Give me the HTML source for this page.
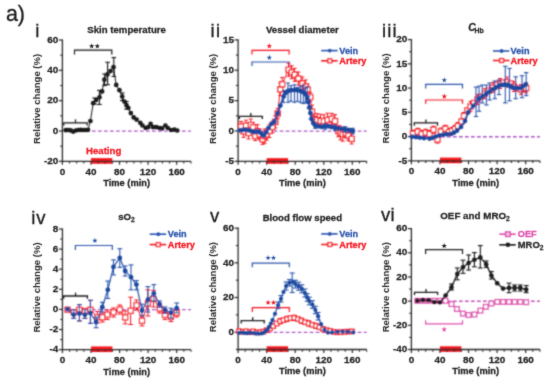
<!DOCTYPE html>
<html><head><meta charset="utf-8"><style>
html,body{margin:0;padding:0;background:#fff;width:550px;height:382px;overflow:hidden}
svg{display:block;will-change:transform}
text{font-family:"Liberation Sans",sans-serif;stroke-width:0.28px}
</style></head><body>
<svg width="550" height="382" viewBox="0 0 550 382">
<defs><filter id="bl" x="0" y="0" width="550" height="382" filterUnits="userSpaceOnUse"><feConvolveMatrix order="3" kernelMatrix="0.0400 0.1200 0.0400 0.1200 0.3600 0.1200 0.0400 0.1200 0.0400" edgeMode="duplicate"/></filter><filter id="bt" x="0" y="0" width="550" height="382" filterUnits="userSpaceOnUse"><feConvolveMatrix order="3" kernelMatrix="0.0144 0.0912 0.0144 0.0912 0.5776 0.0912 0.0144 0.0912 0.0144" edgeMode="duplicate"/></filter></defs>
<rect width="550" height="382" fill="#fff"/>
<g filter="url(#bl)">
<line x1="92.00" y1="131.16" x2="190.92" y2="131.16" stroke="#ac58c6" stroke-width="1.35" stroke-dasharray="3.7 2.3"/>
<rect x="90.96" y="158.15" width="21.42" height="5.6" fill="#f5141e"/>
<line x1="62.40" y1="39.40" x2="62.40" y2="161.35" stroke="#2b2b2b" stroke-width="1.3" />
<line x1="58.80" y1="40.00" x2="62.40" y2="40.00" stroke="#2b2b2b" stroke-width="1.2" />
<line x1="58.80" y1="70.34" x2="62.40" y2="70.34" stroke="#2b2b2b" stroke-width="1.2" />
<line x1="58.80" y1="100.67" x2="62.40" y2="100.67" stroke="#2b2b2b" stroke-width="1.2" />
<line x1="58.80" y1="131.01" x2="62.40" y2="131.01" stroke="#2b2b2b" stroke-width="1.2" />
<line x1="58.80" y1="161.35" x2="62.40" y2="161.35" stroke="#2b2b2b" stroke-width="1.2" />
<line x1="60.20" y1="55.17" x2="62.40" y2="55.17" stroke="#2b2b2b" stroke-width="1.1" />
<line x1="60.20" y1="85.51" x2="62.40" y2="85.51" stroke="#2b2b2b" stroke-width="1.1" />
<line x1="60.20" y1="115.84" x2="62.40" y2="115.84" stroke="#2b2b2b" stroke-width="1.1" />
<line x1="60.20" y1="146.18" x2="62.40" y2="146.18" stroke="#2b2b2b" stroke-width="1.1" />
<line x1="61.80" y1="161.35" x2="190.92" y2="161.35" stroke="#2b2b2b" stroke-width="1.3" />
<line x1="62.40" y1="161.35" x2="62.40" y2="164.75" stroke="#2b2b2b" stroke-width="1.2" />
<line x1="69.54" y1="161.35" x2="69.54" y2="163.55" stroke="#2b2b2b" stroke-width="1.1" />
<line x1="76.68" y1="161.35" x2="76.68" y2="163.55" stroke="#2b2b2b" stroke-width="1.1" />
<line x1="83.82" y1="161.35" x2="83.82" y2="163.55" stroke="#2b2b2b" stroke-width="1.1" />
<line x1="90.96" y1="161.35" x2="90.96" y2="164.75" stroke="#2b2b2b" stroke-width="1.2" />
<line x1="98.10" y1="161.35" x2="98.10" y2="163.55" stroke="#2b2b2b" stroke-width="1.1" />
<line x1="105.24" y1="161.35" x2="105.24" y2="163.55" stroke="#2b2b2b" stroke-width="1.1" />
<line x1="112.38" y1="161.35" x2="112.38" y2="163.55" stroke="#2b2b2b" stroke-width="1.1" />
<line x1="119.52" y1="161.35" x2="119.52" y2="164.75" stroke="#2b2b2b" stroke-width="1.2" />
<line x1="126.66" y1="161.35" x2="126.66" y2="163.55" stroke="#2b2b2b" stroke-width="1.1" />
<line x1="133.80" y1="161.35" x2="133.80" y2="163.55" stroke="#2b2b2b" stroke-width="1.1" />
<line x1="140.94" y1="161.35" x2="140.94" y2="163.55" stroke="#2b2b2b" stroke-width="1.1" />
<line x1="148.08" y1="161.35" x2="148.08" y2="164.75" stroke="#2b2b2b" stroke-width="1.2" />
<line x1="155.22" y1="161.35" x2="155.22" y2="163.55" stroke="#2b2b2b" stroke-width="1.1" />
<line x1="162.36" y1="161.35" x2="162.36" y2="163.55" stroke="#2b2b2b" stroke-width="1.1" />
<line x1="169.50" y1="161.35" x2="169.50" y2="163.55" stroke="#2b2b2b" stroke-width="1.1" />
<line x1="176.64" y1="161.35" x2="176.64" y2="164.75" stroke="#2b2b2b" stroke-width="1.2" />
<line x1="183.78" y1="161.35" x2="183.78" y2="163.55" stroke="#2b2b2b" stroke-width="1.1" />
<line x1="190.92" y1="161.35" x2="190.92" y2="163.55" stroke="#2b2b2b" stroke-width="1.1" />
<polyline points="63.80,125.60 63.80,122.80 87.20,122.80 87.20,125.60" fill="none" stroke="#1a1a1a" stroke-width="1.3"/>
<line x1="75.50" y1="122.80" x2="75.50" y2="119.40" stroke="#1a1a1a" stroke-width="1.3" />
<polyline points="74.50,54.40 74.50,50.10 111.80,50.10 111.80,54.40" fill="none" stroke="#1a1a1a" stroke-width="1.2"/>
<line x1="99.40" y1="90.40" x2="99.40" y2="104.50" stroke="#1a1a1a" stroke-width="1.1" />
<line x1="97.10" y1="90.40" x2="101.70" y2="90.40" stroke="#1a1a1a" stroke-width="1.1" />
<line x1="97.10" y1="104.50" x2="101.70" y2="104.50" stroke="#1a1a1a" stroke-width="1.1" />
<line x1="104.60" y1="74.00" x2="104.60" y2="85.50" stroke="#1a1a1a" stroke-width="1.1" />
<line x1="102.30" y1="74.00" x2="106.90" y2="74.00" stroke="#1a1a1a" stroke-width="1.1" />
<line x1="102.30" y1="85.50" x2="106.90" y2="85.50" stroke="#1a1a1a" stroke-width="1.1" />
<line x1="107.60" y1="62.30" x2="107.60" y2="84.60" stroke="#1a1a1a" stroke-width="1.1" />
<line x1="105.30" y1="62.30" x2="109.90" y2="62.30" stroke="#1a1a1a" stroke-width="1.1" />
<line x1="105.30" y1="84.60" x2="109.90" y2="84.60" stroke="#1a1a1a" stroke-width="1.1" />
<line x1="113.80" y1="57.60" x2="113.80" y2="76.50" stroke="#1a1a1a" stroke-width="1.1" />
<line x1="111.50" y1="57.60" x2="116.10" y2="57.60" stroke="#1a1a1a" stroke-width="1.1" />
<line x1="111.50" y1="76.50" x2="116.10" y2="76.50" stroke="#1a1a1a" stroke-width="1.1" />
<line x1="94.60" y1="98.00" x2="94.60" y2="104.00" stroke="#1a1a1a" stroke-width="1.1" />
<line x1="92.30" y1="98.00" x2="96.90" y2="98.00" stroke="#1a1a1a" stroke-width="1.1" />
<line x1="92.30" y1="104.00" x2="96.90" y2="104.00" stroke="#1a1a1a" stroke-width="1.1" />
<line x1="122.30" y1="93.00" x2="122.30" y2="100.50" stroke="#1a1a1a" stroke-width="1.1" />
<line x1="120.00" y1="93.00" x2="124.60" y2="93.00" stroke="#1a1a1a" stroke-width="1.1" />
<line x1="120.00" y1="100.50" x2="124.60" y2="100.50" stroke="#1a1a1a" stroke-width="1.1" />
<line x1="126.40" y1="101.50" x2="126.40" y2="109.00" stroke="#1a1a1a" stroke-width="1.1" />
<line x1="124.10" y1="101.50" x2="128.70" y2="101.50" stroke="#1a1a1a" stroke-width="1.1" />
<line x1="124.10" y1="109.00" x2="128.70" y2="109.00" stroke="#1a1a1a" stroke-width="1.1" />
<polyline points="65.70,130.20 68.20,130.00 70.70,130.40 73.20,131.60 75.70,130.50 78.20,130.00 80.70,129.90 83.20,130.00 85.70,130.00 88.00,129.80 90.40,121.00 93.20,103.20 96.10,100.00 99.50,97.30 102.10,91.40 104.40,79.70 107.40,74.40 110.50,71.10 113.50,67.20 116.20,84.90 119.40,90.20 122.20,96.50 124.40,101.60 126.50,105.20 128.30,108.00 130.80,113.10 133.70,117.40 136.60,119.60 140.30,122.80 142.50,125.50 145.70,128.00 148.20,127.20 150.60,123.90 153.10,127.20 156.40,127.20 159.60,128.00 162.10,128.40 165.40,125.50 167.80,128.00 171.10,130.00 174.40,129.60 177.20,130.50" fill="none" stroke="#1a1a1a" stroke-width="1.0" stroke-linejoin="round" />
<circle cx="65.70" cy="130.20" r="2.35" fill="#1a1a1a"/>
<circle cx="68.20" cy="130.00" r="2.35" fill="#1a1a1a"/>
<circle cx="70.70" cy="130.40" r="2.35" fill="#1a1a1a"/>
<circle cx="73.20" cy="131.60" r="2.35" fill="#1a1a1a"/>
<circle cx="75.70" cy="130.50" r="2.35" fill="#1a1a1a"/>
<circle cx="78.20" cy="130.00" r="2.35" fill="#1a1a1a"/>
<circle cx="80.70" cy="129.90" r="2.35" fill="#1a1a1a"/>
<circle cx="83.20" cy="130.00" r="2.35" fill="#1a1a1a"/>
<circle cx="85.70" cy="130.00" r="2.35" fill="#1a1a1a"/>
<circle cx="88.00" cy="129.80" r="2.35" fill="#1a1a1a"/>
<circle cx="90.40" cy="121.00" r="2.35" fill="#1a1a1a"/>
<circle cx="93.20" cy="103.20" r="2.35" fill="#1a1a1a"/>
<circle cx="96.10" cy="100.00" r="2.35" fill="#1a1a1a"/>
<circle cx="99.50" cy="97.30" r="2.35" fill="#1a1a1a"/>
<circle cx="102.10" cy="91.40" r="2.35" fill="#1a1a1a"/>
<circle cx="104.40" cy="79.70" r="2.35" fill="#1a1a1a"/>
<circle cx="107.40" cy="74.40" r="2.35" fill="#1a1a1a"/>
<circle cx="110.50" cy="71.10" r="2.35" fill="#1a1a1a"/>
<circle cx="113.50" cy="67.20" r="2.35" fill="#1a1a1a"/>
<circle cx="116.20" cy="84.90" r="2.35" fill="#1a1a1a"/>
<circle cx="119.40" cy="90.20" r="2.35" fill="#1a1a1a"/>
<circle cx="122.20" cy="96.50" r="2.35" fill="#1a1a1a"/>
<circle cx="124.40" cy="101.60" r="2.35" fill="#1a1a1a"/>
<circle cx="126.50" cy="105.20" r="2.35" fill="#1a1a1a"/>
<circle cx="128.30" cy="108.00" r="2.35" fill="#1a1a1a"/>
<circle cx="130.80" cy="113.10" r="2.35" fill="#1a1a1a"/>
<circle cx="133.70" cy="117.40" r="2.35" fill="#1a1a1a"/>
<circle cx="136.60" cy="119.60" r="2.35" fill="#1a1a1a"/>
<circle cx="140.30" cy="122.80" r="2.35" fill="#1a1a1a"/>
<circle cx="142.50" cy="125.50" r="2.35" fill="#1a1a1a"/>
<circle cx="145.70" cy="128.00" r="2.35" fill="#1a1a1a"/>
<circle cx="148.20" cy="127.20" r="2.35" fill="#1a1a1a"/>
<circle cx="150.60" cy="123.90" r="2.35" fill="#1a1a1a"/>
<circle cx="153.10" cy="127.20" r="2.35" fill="#1a1a1a"/>
<circle cx="156.40" cy="127.20" r="2.35" fill="#1a1a1a"/>
<circle cx="159.60" cy="128.00" r="2.35" fill="#1a1a1a"/>
<circle cx="162.10" cy="128.40" r="2.35" fill="#1a1a1a"/>
<circle cx="165.40" cy="125.50" r="2.35" fill="#1a1a1a"/>
<circle cx="167.80" cy="128.00" r="2.35" fill="#1a1a1a"/>
<circle cx="171.10" cy="130.00" r="2.35" fill="#1a1a1a"/>
<circle cx="174.40" cy="129.60" r="2.35" fill="#1a1a1a"/>
<circle cx="177.20" cy="130.50" r="2.35" fill="#1a1a1a"/>
<line x1="243.70" y1="131.14" x2="366.62" y2="131.14" stroke="#ac58c6" stroke-width="1.35" stroke-dasharray="3.7 2.3"/>
<rect x="266.66" y="158.15" width="21.42" height="5.6" fill="#f5141e"/>
<line x1="238.10" y1="39.30" x2="238.10" y2="161.35" stroke="#2b2b2b" stroke-width="1.3" />
<line x1="234.50" y1="39.90" x2="238.10" y2="39.90" stroke="#2b2b2b" stroke-width="1.2" />
<line x1="234.50" y1="70.26" x2="238.10" y2="70.26" stroke="#2b2b2b" stroke-width="1.2" />
<line x1="234.50" y1="100.62" x2="238.10" y2="100.62" stroke="#2b2b2b" stroke-width="1.2" />
<line x1="234.50" y1="130.99" x2="238.10" y2="130.99" stroke="#2b2b2b" stroke-width="1.2" />
<line x1="234.50" y1="161.35" x2="238.10" y2="161.35" stroke="#2b2b2b" stroke-width="1.2" />
<line x1="235.90" y1="55.08" x2="238.10" y2="55.08" stroke="#2b2b2b" stroke-width="1.1" />
<line x1="235.90" y1="85.44" x2="238.10" y2="85.44" stroke="#2b2b2b" stroke-width="1.1" />
<line x1="235.90" y1="115.81" x2="238.10" y2="115.81" stroke="#2b2b2b" stroke-width="1.1" />
<line x1="235.90" y1="146.17" x2="238.10" y2="146.17" stroke="#2b2b2b" stroke-width="1.1" />
<line x1="237.50" y1="161.35" x2="366.62" y2="161.35" stroke="#2b2b2b" stroke-width="1.3" />
<line x1="238.10" y1="161.35" x2="238.10" y2="164.75" stroke="#2b2b2b" stroke-width="1.2" />
<line x1="245.24" y1="161.35" x2="245.24" y2="163.55" stroke="#2b2b2b" stroke-width="1.1" />
<line x1="252.38" y1="161.35" x2="252.38" y2="163.55" stroke="#2b2b2b" stroke-width="1.1" />
<line x1="259.52" y1="161.35" x2="259.52" y2="163.55" stroke="#2b2b2b" stroke-width="1.1" />
<line x1="266.66" y1="161.35" x2="266.66" y2="164.75" stroke="#2b2b2b" stroke-width="1.2" />
<line x1="273.80" y1="161.35" x2="273.80" y2="163.55" stroke="#2b2b2b" stroke-width="1.1" />
<line x1="280.94" y1="161.35" x2="280.94" y2="163.55" stroke="#2b2b2b" stroke-width="1.1" />
<line x1="288.08" y1="161.35" x2="288.08" y2="163.55" stroke="#2b2b2b" stroke-width="1.1" />
<line x1="295.22" y1="161.35" x2="295.22" y2="164.75" stroke="#2b2b2b" stroke-width="1.2" />
<line x1="302.36" y1="161.35" x2="302.36" y2="163.55" stroke="#2b2b2b" stroke-width="1.1" />
<line x1="309.50" y1="161.35" x2="309.50" y2="163.55" stroke="#2b2b2b" stroke-width="1.1" />
<line x1="316.64" y1="161.35" x2="316.64" y2="163.55" stroke="#2b2b2b" stroke-width="1.1" />
<line x1="323.78" y1="161.35" x2="323.78" y2="164.75" stroke="#2b2b2b" stroke-width="1.2" />
<line x1="330.92" y1="161.35" x2="330.92" y2="163.55" stroke="#2b2b2b" stroke-width="1.1" />
<line x1="338.06" y1="161.35" x2="338.06" y2="163.55" stroke="#2b2b2b" stroke-width="1.1" />
<line x1="345.20" y1="161.35" x2="345.20" y2="163.55" stroke="#2b2b2b" stroke-width="1.1" />
<line x1="352.34" y1="161.35" x2="352.34" y2="164.75" stroke="#2b2b2b" stroke-width="1.2" />
<line x1="359.48" y1="161.35" x2="359.48" y2="163.55" stroke="#2b2b2b" stroke-width="1.1" />
<line x1="366.62" y1="161.35" x2="366.62" y2="163.55" stroke="#2b2b2b" stroke-width="1.1" />
<polyline points="239.30,119.10 239.30,116.30 262.30,116.30 262.30,119.10" fill="none" stroke="#1a1a1a" stroke-width="1.3"/>
<line x1="250.80" y1="116.30" x2="250.80" y2="112.90" stroke="#1a1a1a" stroke-width="1.3" />
<polyline points="252.00,54.40 252.00,50.40 289.10,50.40 289.10,54.40" fill="none" stroke="#f5141e" stroke-width="1.2"/>
<polyline points="252.00,66.00 252.00,62.00 289.10,62.00 289.10,66.00" fill="none" stroke="#2a54ad" stroke-width="1.2"/>
<line x1="241.00" y1="121.41" x2="241.00" y2="131.59" stroke="#f5141e" stroke-width="1.0" />
<line x1="239.00" y1="121.41" x2="243.00" y2="121.41" stroke="#f5141e" stroke-width="1.0" />
<line x1="239.00" y1="131.59" x2="243.00" y2="131.59" stroke="#f5141e" stroke-width="1.0" />
<line x1="243.60" y1="125.64" x2="243.60" y2="137.36" stroke="#f5141e" stroke-width="1.0" />
<line x1="241.60" y1="125.64" x2="245.60" y2="125.64" stroke="#f5141e" stroke-width="1.0" />
<line x1="241.60" y1="137.36" x2="245.60" y2="137.36" stroke="#f5141e" stroke-width="1.0" />
<line x1="246.00" y1="120.18" x2="246.00" y2="131.02" stroke="#f5141e" stroke-width="1.0" />
<line x1="244.00" y1="120.18" x2="248.00" y2="120.18" stroke="#f5141e" stroke-width="1.0" />
<line x1="244.00" y1="131.02" x2="248.00" y2="131.02" stroke="#f5141e" stroke-width="1.0" />
<line x1="248.50" y1="126.99" x2="248.50" y2="139.01" stroke="#f5141e" stroke-width="1.0" />
<line x1="246.50" y1="126.99" x2="250.50" y2="126.99" stroke="#f5141e" stroke-width="1.0" />
<line x1="246.50" y1="139.01" x2="250.50" y2="139.01" stroke="#f5141e" stroke-width="1.0" />
<line x1="250.80" y1="118.94" x2="250.80" y2="131.06" stroke="#f5141e" stroke-width="1.0" />
<line x1="248.80" y1="118.94" x2="252.80" y2="118.94" stroke="#f5141e" stroke-width="1.0" />
<line x1="248.80" y1="131.06" x2="252.80" y2="131.06" stroke="#f5141e" stroke-width="1.0" />
<line x1="253.00" y1="122.54" x2="253.00" y2="131.86" stroke="#f5141e" stroke-width="1.0" />
<line x1="251.00" y1="122.54" x2="255.00" y2="122.54" stroke="#f5141e" stroke-width="1.0" />
<line x1="251.00" y1="131.86" x2="255.00" y2="131.86" stroke="#f5141e" stroke-width="1.0" />
<line x1="255.20" y1="131.47" x2="255.20" y2="140.53" stroke="#f5141e" stroke-width="1.0" />
<line x1="253.20" y1="131.47" x2="257.20" y2="131.47" stroke="#f5141e" stroke-width="1.0" />
<line x1="253.20" y1="140.53" x2="257.20" y2="140.53" stroke="#f5141e" stroke-width="1.0" />
<line x1="257.50" y1="124.61" x2="257.50" y2="137.79" stroke="#f5141e" stroke-width="1.0" />
<line x1="255.50" y1="124.61" x2="259.50" y2="124.61" stroke="#f5141e" stroke-width="1.0" />
<line x1="255.50" y1="137.79" x2="259.50" y2="137.79" stroke="#f5141e" stroke-width="1.0" />
<line x1="259.60" y1="129.35" x2="259.60" y2="139.65" stroke="#f5141e" stroke-width="1.0" />
<line x1="257.60" y1="129.35" x2="261.60" y2="129.35" stroke="#f5141e" stroke-width="1.0" />
<line x1="257.60" y1="139.65" x2="261.60" y2="139.65" stroke="#f5141e" stroke-width="1.0" />
<line x1="262.60" y1="134.21" x2="262.60" y2="144.39" stroke="#f5141e" stroke-width="1.0" />
<line x1="260.60" y1="134.21" x2="264.60" y2="134.21" stroke="#f5141e" stroke-width="1.0" />
<line x1="260.60" y1="144.39" x2="264.60" y2="144.39" stroke="#f5141e" stroke-width="1.0" />
<line x1="264.60" y1="129.21" x2="264.60" y2="143.19" stroke="#f5141e" stroke-width="1.0" />
<line x1="262.60" y1="129.21" x2="266.60" y2="129.21" stroke="#f5141e" stroke-width="1.0" />
<line x1="262.60" y1="143.19" x2="266.60" y2="143.19" stroke="#f5141e" stroke-width="1.0" />
<line x1="266.60" y1="128.82" x2="266.60" y2="140.18" stroke="#f5141e" stroke-width="1.0" />
<line x1="264.60" y1="128.82" x2="268.60" y2="128.82" stroke="#f5141e" stroke-width="1.0" />
<line x1="264.60" y1="140.18" x2="268.60" y2="140.18" stroke="#f5141e" stroke-width="1.0" />
<line x1="269.50" y1="124.41" x2="269.50" y2="137.59" stroke="#f5141e" stroke-width="1.0" />
<line x1="267.50" y1="124.41" x2="271.50" y2="124.41" stroke="#f5141e" stroke-width="1.0" />
<line x1="267.50" y1="137.59" x2="271.50" y2="137.59" stroke="#f5141e" stroke-width="1.0" />
<line x1="272.50" y1="121.31" x2="272.50" y2="132.69" stroke="#f5141e" stroke-width="1.0" />
<line x1="270.50" y1="121.31" x2="274.50" y2="121.31" stroke="#f5141e" stroke-width="1.0" />
<line x1="270.50" y1="132.69" x2="274.50" y2="132.69" stroke="#f5141e" stroke-width="1.0" />
<line x1="275.30" y1="115.70" x2="275.30" y2="127.90" stroke="#f5141e" stroke-width="1.0" />
<line x1="273.30" y1="115.70" x2="277.30" y2="115.70" stroke="#f5141e" stroke-width="1.0" />
<line x1="273.30" y1="127.90" x2="277.30" y2="127.90" stroke="#f5141e" stroke-width="1.0" />
<line x1="277.70" y1="108.52" x2="277.70" y2="118.28" stroke="#f5141e" stroke-width="1.0" />
<line x1="275.70" y1="108.52" x2="279.70" y2="108.52" stroke="#f5141e" stroke-width="1.0" />
<line x1="275.70" y1="118.28" x2="279.70" y2="118.28" stroke="#f5141e" stroke-width="1.0" />
<line x1="280.30" y1="83.31" x2="280.30" y2="95.49" stroke="#f5141e" stroke-width="1.0" />
<line x1="278.30" y1="83.31" x2="282.30" y2="83.31" stroke="#f5141e" stroke-width="1.0" />
<line x1="278.30" y1="95.49" x2="282.30" y2="95.49" stroke="#f5141e" stroke-width="1.0" />
<line x1="282.20" y1="77.53" x2="282.20" y2="90.87" stroke="#f5141e" stroke-width="1.0" />
<line x1="280.20" y1="77.53" x2="284.20" y2="77.53" stroke="#f5141e" stroke-width="1.0" />
<line x1="280.20" y1="90.87" x2="284.20" y2="90.87" stroke="#f5141e" stroke-width="1.0" />
<line x1="288.50" y1="63.30" x2="288.50" y2="76.30" stroke="#f5141e" stroke-width="1.0" />
<line x1="286.50" y1="63.30" x2="290.50" y2="63.30" stroke="#f5141e" stroke-width="1.0" />
<line x1="286.50" y1="76.30" x2="290.50" y2="76.30" stroke="#f5141e" stroke-width="1.0" />
<line x1="291.60" y1="65.70" x2="291.60" y2="78.70" stroke="#f5141e" stroke-width="1.0" />
<line x1="289.60" y1="65.70" x2="293.60" y2="65.70" stroke="#f5141e" stroke-width="1.0" />
<line x1="289.60" y1="78.70" x2="293.60" y2="78.70" stroke="#f5141e" stroke-width="1.0" />
<line x1="294.60" y1="68.30" x2="294.60" y2="81.30" stroke="#f5141e" stroke-width="1.0" />
<line x1="292.60" y1="68.30" x2="296.60" y2="68.30" stroke="#f5141e" stroke-width="1.0" />
<line x1="292.60" y1="81.30" x2="296.60" y2="81.30" stroke="#f5141e" stroke-width="1.0" />
<line x1="298.30" y1="72.00" x2="298.30" y2="85.00" stroke="#f5141e" stroke-width="1.0" />
<line x1="296.30" y1="72.00" x2="300.30" y2="72.00" stroke="#f5141e" stroke-width="1.0" />
<line x1="296.30" y1="85.00" x2="300.30" y2="85.00" stroke="#f5141e" stroke-width="1.0" />
<line x1="302.30" y1="77.00" x2="302.30" y2="90.00" stroke="#f5141e" stroke-width="1.0" />
<line x1="300.30" y1="77.00" x2="304.30" y2="77.00" stroke="#f5141e" stroke-width="1.0" />
<line x1="300.30" y1="90.00" x2="304.30" y2="90.00" stroke="#f5141e" stroke-width="1.0" />
<line x1="305.60" y1="80.00" x2="305.60" y2="93.00" stroke="#f5141e" stroke-width="1.0" />
<line x1="303.60" y1="80.00" x2="307.60" y2="80.00" stroke="#f5141e" stroke-width="1.0" />
<line x1="303.60" y1="93.00" x2="307.60" y2="93.00" stroke="#f5141e" stroke-width="1.0" />
<line x1="307.60" y1="84.25" x2="307.60" y2="94.75" stroke="#f5141e" stroke-width="1.0" />
<line x1="305.60" y1="84.25" x2="309.60" y2="84.25" stroke="#f5141e" stroke-width="1.0" />
<line x1="305.60" y1="94.75" x2="309.60" y2="94.75" stroke="#f5141e" stroke-width="1.0" />
<line x1="310.20" y1="92.42" x2="310.20" y2="101.58" stroke="#f5141e" stroke-width="1.0" />
<line x1="308.20" y1="92.42" x2="312.20" y2="92.42" stroke="#f5141e" stroke-width="1.0" />
<line x1="308.20" y1="101.58" x2="312.20" y2="101.58" stroke="#f5141e" stroke-width="1.0" />
<line x1="312.00" y1="105.14" x2="312.00" y2="118.46" stroke="#f5141e" stroke-width="1.0" />
<line x1="310.00" y1="105.14" x2="314.00" y2="105.14" stroke="#f5141e" stroke-width="1.0" />
<line x1="310.00" y1="118.46" x2="314.00" y2="118.46" stroke="#f5141e" stroke-width="1.0" />
<line x1="314.00" y1="113.22" x2="314.00" y2="124.58" stroke="#f5141e" stroke-width="1.0" />
<line x1="312.00" y1="113.22" x2="316.00" y2="113.22" stroke="#f5141e" stroke-width="1.0" />
<line x1="312.00" y1="124.58" x2="316.00" y2="124.58" stroke="#f5141e" stroke-width="1.0" />
<line x1="317.20" y1="113.70" x2="317.20" y2="126.30" stroke="#f5141e" stroke-width="1.0" />
<line x1="315.20" y1="113.70" x2="319.20" y2="113.70" stroke="#f5141e" stroke-width="1.0" />
<line x1="315.20" y1="126.30" x2="319.20" y2="126.30" stroke="#f5141e" stroke-width="1.0" />
<line x1="320.50" y1="114.30" x2="320.50" y2="127.70" stroke="#f5141e" stroke-width="1.0" />
<line x1="318.50" y1="114.30" x2="322.50" y2="114.30" stroke="#f5141e" stroke-width="1.0" />
<line x1="318.50" y1="127.70" x2="322.50" y2="127.70" stroke="#f5141e" stroke-width="1.0" />
<line x1="323.90" y1="114.81" x2="323.90" y2="127.39" stroke="#f5141e" stroke-width="1.0" />
<line x1="321.90" y1="114.81" x2="325.90" y2="114.81" stroke="#f5141e" stroke-width="1.0" />
<line x1="321.90" y1="127.39" x2="325.90" y2="127.39" stroke="#f5141e" stroke-width="1.0" />
<line x1="327.50" y1="113.20" x2="327.50" y2="126.80" stroke="#f5141e" stroke-width="1.0" />
<line x1="325.50" y1="113.20" x2="329.50" y2="113.20" stroke="#f5141e" stroke-width="1.0" />
<line x1="325.50" y1="126.80" x2="329.50" y2="126.80" stroke="#f5141e" stroke-width="1.0" />
<line x1="331.70" y1="113.41" x2="331.70" y2="124.39" stroke="#f5141e" stroke-width="1.0" />
<line x1="329.70" y1="113.41" x2="333.70" y2="113.41" stroke="#f5141e" stroke-width="1.0" />
<line x1="329.70" y1="124.39" x2="333.70" y2="124.39" stroke="#f5141e" stroke-width="1.0" />
<line x1="335.00" y1="114.60" x2="335.00" y2="127.60" stroke="#f5141e" stroke-width="1.0" />
<line x1="333.00" y1="114.60" x2="337.00" y2="114.60" stroke="#f5141e" stroke-width="1.0" />
<line x1="333.00" y1="127.60" x2="337.00" y2="127.60" stroke="#f5141e" stroke-width="1.0" />
<line x1="338.30" y1="125.49" x2="338.30" y2="136.71" stroke="#f5141e" stroke-width="1.0" />
<line x1="336.30" y1="125.49" x2="340.30" y2="125.49" stroke="#f5141e" stroke-width="1.0" />
<line x1="336.30" y1="136.71" x2="340.30" y2="136.71" stroke="#f5141e" stroke-width="1.0" />
<line x1="340.50" y1="126.16" x2="340.50" y2="139.84" stroke="#f5141e" stroke-width="1.0" />
<line x1="338.50" y1="126.16" x2="342.50" y2="126.16" stroke="#f5141e" stroke-width="1.0" />
<line x1="338.50" y1="139.84" x2="342.50" y2="139.84" stroke="#f5141e" stroke-width="1.0" />
<line x1="342.80" y1="127.70" x2="342.80" y2="141.10" stroke="#f5141e" stroke-width="1.0" />
<line x1="340.80" y1="127.70" x2="344.80" y2="127.70" stroke="#f5141e" stroke-width="1.0" />
<line x1="340.80" y1="141.10" x2="344.80" y2="141.10" stroke="#f5141e" stroke-width="1.0" />
<line x1="345.50" y1="128.26" x2="345.50" y2="137.74" stroke="#f5141e" stroke-width="1.0" />
<line x1="343.50" y1="128.26" x2="347.50" y2="128.26" stroke="#f5141e" stroke-width="1.0" />
<line x1="343.50" y1="137.74" x2="347.50" y2="137.74" stroke="#f5141e" stroke-width="1.0" />
<line x1="348.30" y1="130.76" x2="348.30" y2="140.44" stroke="#f5141e" stroke-width="1.0" />
<line x1="346.30" y1="130.76" x2="350.30" y2="130.76" stroke="#f5141e" stroke-width="1.0" />
<line x1="346.30" y1="140.44" x2="350.30" y2="140.44" stroke="#f5141e" stroke-width="1.0" />
<line x1="351.70" y1="133.86" x2="351.70" y2="143.94" stroke="#f5141e" stroke-width="1.0" />
<line x1="349.70" y1="133.86" x2="353.70" y2="133.86" stroke="#f5141e" stroke-width="1.0" />
<line x1="349.70" y1="143.94" x2="353.70" y2="143.94" stroke="#f5141e" stroke-width="1.0" />
<polyline points="241.00,126.50 243.60,131.50 246.00,125.60 248.50,133.00 250.80,125.00 253.00,127.20 255.20,136.00 257.50,131.20 259.60,134.50 262.60,139.30 264.60,136.20 266.60,134.50 269.50,131.00 272.50,127.00 275.30,121.80 277.70,113.40 280.30,89.40 282.20,84.20 288.50,69.80 291.60,72.20 294.60,74.80 298.30,78.50 302.30,83.50 305.60,86.50 307.60,89.50 310.20,97.00 312.00,111.80 314.00,118.90 317.20,120.00 320.50,121.00 323.90,121.10 327.50,120.00 331.70,118.90 335.00,121.10 338.30,131.10 340.50,133.00 342.80,134.40 345.50,133.00 348.30,135.60 351.70,138.90" fill="none" stroke="#f5141e" stroke-width="1.0" stroke-linejoin="round" />
<rect x="238.50" y="124.00" width="5.0" height="5.0" fill="#fff" stroke="#f5141e" stroke-width="1.25"/>
<rect x="241.10" y="129.00" width="5.0" height="5.0" fill="#fff" stroke="#f5141e" stroke-width="1.25"/>
<rect x="243.50" y="123.10" width="5.0" height="5.0" fill="#fff" stroke="#f5141e" stroke-width="1.25"/>
<rect x="246.00" y="130.50" width="5.0" height="5.0" fill="#fff" stroke="#f5141e" stroke-width="1.25"/>
<rect x="248.30" y="122.50" width="5.0" height="5.0" fill="#fff" stroke="#f5141e" stroke-width="1.25"/>
<rect x="250.50" y="124.70" width="5.0" height="5.0" fill="#fff" stroke="#f5141e" stroke-width="1.25"/>
<rect x="252.70" y="133.50" width="5.0" height="5.0" fill="#fff" stroke="#f5141e" stroke-width="1.25"/>
<rect x="255.00" y="128.70" width="5.0" height="5.0" fill="#fff" stroke="#f5141e" stroke-width="1.25"/>
<rect x="257.10" y="132.00" width="5.0" height="5.0" fill="#fff" stroke="#f5141e" stroke-width="1.25"/>
<rect x="260.10" y="136.80" width="5.0" height="5.0" fill="#fff" stroke="#f5141e" stroke-width="1.25"/>
<rect x="262.10" y="133.70" width="5.0" height="5.0" fill="#fff" stroke="#f5141e" stroke-width="1.25"/>
<rect x="264.10" y="132.00" width="5.0" height="5.0" fill="#fff" stroke="#f5141e" stroke-width="1.25"/>
<rect x="267.00" y="128.50" width="5.0" height="5.0" fill="#fff" stroke="#f5141e" stroke-width="1.25"/>
<rect x="270.00" y="124.50" width="5.0" height="5.0" fill="#fff" stroke="#f5141e" stroke-width="1.25"/>
<rect x="272.80" y="119.30" width="5.0" height="5.0" fill="#fff" stroke="#f5141e" stroke-width="1.25"/>
<rect x="275.20" y="110.90" width="5.0" height="5.0" fill="#fff" stroke="#f5141e" stroke-width="1.25"/>
<rect x="277.80" y="86.90" width="5.0" height="5.0" fill="#fff" stroke="#f5141e" stroke-width="1.25"/>
<rect x="279.70" y="81.70" width="5.0" height="5.0" fill="#fff" stroke="#f5141e" stroke-width="1.25"/>
<rect x="286.00" y="67.30" width="5.0" height="5.0" fill="#fff" stroke="#f5141e" stroke-width="1.25"/>
<rect x="289.10" y="69.70" width="5.0" height="5.0" fill="#fff" stroke="#f5141e" stroke-width="1.25"/>
<rect x="292.10" y="72.30" width="5.0" height="5.0" fill="#fff" stroke="#f5141e" stroke-width="1.25"/>
<rect x="295.80" y="76.00" width="5.0" height="5.0" fill="#fff" stroke="#f5141e" stroke-width="1.25"/>
<rect x="299.80" y="81.00" width="5.0" height="5.0" fill="#fff" stroke="#f5141e" stroke-width="1.25"/>
<rect x="303.10" y="84.00" width="5.0" height="5.0" fill="#fff" stroke="#f5141e" stroke-width="1.25"/>
<rect x="305.10" y="87.00" width="5.0" height="5.0" fill="#fff" stroke="#f5141e" stroke-width="1.25"/>
<rect x="307.70" y="94.50" width="5.0" height="5.0" fill="#fff" stroke="#f5141e" stroke-width="1.25"/>
<rect x="309.50" y="109.30" width="5.0" height="5.0" fill="#fff" stroke="#f5141e" stroke-width="1.25"/>
<rect x="311.50" y="116.40" width="5.0" height="5.0" fill="#fff" stroke="#f5141e" stroke-width="1.25"/>
<rect x="314.70" y="117.50" width="5.0" height="5.0" fill="#fff" stroke="#f5141e" stroke-width="1.25"/>
<rect x="318.00" y="118.50" width="5.0" height="5.0" fill="#fff" stroke="#f5141e" stroke-width="1.25"/>
<rect x="321.40" y="118.60" width="5.0" height="5.0" fill="#fff" stroke="#f5141e" stroke-width="1.25"/>
<rect x="325.00" y="117.50" width="5.0" height="5.0" fill="#fff" stroke="#f5141e" stroke-width="1.25"/>
<rect x="329.20" y="116.40" width="5.0" height="5.0" fill="#fff" stroke="#f5141e" stroke-width="1.25"/>
<rect x="332.50" y="118.60" width="5.0" height="5.0" fill="#fff" stroke="#f5141e" stroke-width="1.25"/>
<rect x="335.80" y="128.60" width="5.0" height="5.0" fill="#fff" stroke="#f5141e" stroke-width="1.25"/>
<rect x="338.00" y="130.50" width="5.0" height="5.0" fill="#fff" stroke="#f5141e" stroke-width="1.25"/>
<rect x="340.30" y="131.90" width="5.0" height="5.0" fill="#fff" stroke="#f5141e" stroke-width="1.25"/>
<rect x="343.00" y="130.50" width="5.0" height="5.0" fill="#fff" stroke="#f5141e" stroke-width="1.25"/>
<rect x="345.80" y="133.10" width="5.0" height="5.0" fill="#fff" stroke="#f5141e" stroke-width="1.25"/>
<rect x="349.20" y="136.40" width="5.0" height="5.0" fill="#fff" stroke="#f5141e" stroke-width="1.25"/>
<line x1="283.60" y1="90.50" x2="283.60" y2="102.50" stroke="#2a54ad" stroke-width="1.1" />
<line x1="281.70" y1="90.50" x2="285.50" y2="90.50" stroke="#2a54ad" stroke-width="1.1" />
<line x1="281.70" y1="102.50" x2="285.50" y2="102.50" stroke="#2a54ad" stroke-width="1.1" />
<line x1="288.00" y1="83.00" x2="288.00" y2="102.30" stroke="#2a54ad" stroke-width="1.1" />
<line x1="286.10" y1="83.00" x2="289.90" y2="83.00" stroke="#2a54ad" stroke-width="1.1" />
<line x1="286.10" y1="102.30" x2="289.90" y2="102.30" stroke="#2a54ad" stroke-width="1.1" />
<line x1="291.00" y1="85.65" x2="291.00" y2="101.22" stroke="#2a54ad" stroke-width="1.1" />
<line x1="289.10" y1="85.65" x2="292.90" y2="85.65" stroke="#2a54ad" stroke-width="1.1" />
<line x1="289.10" y1="101.22" x2="292.90" y2="101.22" stroke="#2a54ad" stroke-width="1.1" />
<line x1="294.50" y1="84.77" x2="294.50" y2="102.34" stroke="#2a54ad" stroke-width="1.1" />
<line x1="292.60" y1="84.77" x2="296.40" y2="84.77" stroke="#2a54ad" stroke-width="1.1" />
<line x1="292.60" y1="102.34" x2="296.40" y2="102.34" stroke="#2a54ad" stroke-width="1.1" />
<line x1="297.50" y1="87.42" x2="297.50" y2="101.26" stroke="#2a54ad" stroke-width="1.1" />
<line x1="295.60" y1="87.42" x2="299.40" y2="87.42" stroke="#2a54ad" stroke-width="1.1" />
<line x1="295.60" y1="101.26" x2="299.40" y2="101.26" stroke="#2a54ad" stroke-width="1.1" />
<line x1="300.60" y1="86.09" x2="300.60" y2="102.59" stroke="#2a54ad" stroke-width="1.1" />
<line x1="298.70" y1="86.09" x2="302.50" y2="86.09" stroke="#2a54ad" stroke-width="1.1" />
<line x1="298.70" y1="102.59" x2="302.50" y2="102.59" stroke="#2a54ad" stroke-width="1.1" />
<line x1="303.30" y1="85.30" x2="303.30" y2="103.52" stroke="#2a54ad" stroke-width="1.1" />
<line x1="301.40" y1="85.30" x2="305.20" y2="85.30" stroke="#2a54ad" stroke-width="1.1" />
<line x1="301.40" y1="103.52" x2="305.20" y2="103.52" stroke="#2a54ad" stroke-width="1.1" />
<line x1="305.50" y1="88.12" x2="305.50" y2="102.20" stroke="#2a54ad" stroke-width="1.1" />
<line x1="303.60" y1="88.12" x2="307.40" y2="88.12" stroke="#2a54ad" stroke-width="1.1" />
<line x1="303.60" y1="102.20" x2="307.40" y2="102.20" stroke="#2a54ad" stroke-width="1.1" />
<line x1="307.30" y1="86.89" x2="307.30" y2="103.24" stroke="#2a54ad" stroke-width="1.1" />
<line x1="305.40" y1="86.89" x2="309.20" y2="86.89" stroke="#2a54ad" stroke-width="1.1" />
<line x1="305.40" y1="103.24" x2="309.20" y2="103.24" stroke="#2a54ad" stroke-width="1.1" />
<line x1="308.50" y1="96.00" x2="308.50" y2="108.00" stroke="#2a54ad" stroke-width="1.1" />
<line x1="306.60" y1="96.00" x2="310.40" y2="96.00" stroke="#2a54ad" stroke-width="1.1" />
<line x1="306.60" y1="108.00" x2="310.40" y2="108.00" stroke="#2a54ad" stroke-width="1.1" />
<line x1="310.50" y1="107.00" x2="310.50" y2="119.00" stroke="#2a54ad" stroke-width="1.1" />
<line x1="308.60" y1="107.00" x2="312.40" y2="107.00" stroke="#2a54ad" stroke-width="1.1" />
<line x1="308.60" y1="119.00" x2="312.40" y2="119.00" stroke="#2a54ad" stroke-width="1.1" />
<line x1="315.20" y1="122.80" x2="315.20" y2="128.40" stroke="#2a54ad" stroke-width="1.1" />
<line x1="313.30" y1="122.80" x2="317.10" y2="122.80" stroke="#2a54ad" stroke-width="1.1" />
<line x1="313.30" y1="128.40" x2="317.10" y2="128.40" stroke="#2a54ad" stroke-width="1.1" />
<line x1="325.00" y1="123.60" x2="325.00" y2="129.20" stroke="#2a54ad" stroke-width="1.1" />
<line x1="323.10" y1="123.60" x2="326.90" y2="123.60" stroke="#2a54ad" stroke-width="1.1" />
<line x1="323.10" y1="129.20" x2="326.90" y2="129.20" stroke="#2a54ad" stroke-width="1.1" />
<line x1="335.00" y1="125.00" x2="335.00" y2="130.60" stroke="#2a54ad" stroke-width="1.1" />
<line x1="333.10" y1="125.00" x2="336.90" y2="125.00" stroke="#2a54ad" stroke-width="1.1" />
<line x1="333.10" y1="130.60" x2="336.90" y2="130.60" stroke="#2a54ad" stroke-width="1.1" />
<line x1="345.00" y1="126.70" x2="345.00" y2="132.30" stroke="#2a54ad" stroke-width="1.1" />
<line x1="343.10" y1="126.70" x2="346.90" y2="126.70" stroke="#2a54ad" stroke-width="1.1" />
<line x1="343.10" y1="132.30" x2="346.90" y2="132.30" stroke="#2a54ad" stroke-width="1.1" />
<line x1="352.80" y1="128.30" x2="352.80" y2="133.90" stroke="#2a54ad" stroke-width="1.1" />
<line x1="350.90" y1="128.30" x2="354.70" y2="128.30" stroke="#2a54ad" stroke-width="1.1" />
<line x1="350.90" y1="133.90" x2="354.70" y2="133.90" stroke="#2a54ad" stroke-width="1.1" />
<polyline points="240.10,130.20 242.60,130.00 245.20,129.70 247.50,130.10 249.70,130.60 252.00,131.30 254.30,132.00 256.40,131.60 258.50,131.50 260.60,133.00 262.40,135.00 263.90,135.40 266.30,132.20 268.60,128.00 271.50,124.00 274.40,121.80 277.70,113.40 280.30,105.60 283.60,96.50 285.60,92.80 288.00,91.00 291.00,90.30 294.50,90.00 297.50,90.30 300.60,91.00 303.30,92.30 305.50,94.30 307.30,98.00 308.50,102.00 309.50,107.50 310.50,113.00 311.70,118.90 313.30,123.00 315.20,125.60 318.30,126.20 321.70,126.70 325.00,126.40 328.30,126.20 331.50,127.00 335.00,127.80 338.30,128.30 341.70,128.90 345.00,129.50 348.30,130.00 350.50,130.50 352.80,131.10" fill="none" stroke="#2a54ad" stroke-width="2.0" stroke-linejoin="round" />
<circle cx="240.10" cy="130.20" r="2.45" fill="#1b4a9f"/>
<circle cx="242.60" cy="130.00" r="2.45" fill="#1b4a9f"/>
<circle cx="245.20" cy="129.70" r="2.45" fill="#1b4a9f"/>
<circle cx="247.50" cy="130.10" r="2.45" fill="#1b4a9f"/>
<circle cx="249.70" cy="130.60" r="2.45" fill="#1b4a9f"/>
<circle cx="252.00" cy="131.30" r="2.45" fill="#1b4a9f"/>
<circle cx="254.30" cy="132.00" r="2.45" fill="#1b4a9f"/>
<circle cx="256.40" cy="131.60" r="2.45" fill="#1b4a9f"/>
<circle cx="258.50" cy="131.50" r="2.45" fill="#1b4a9f"/>
<circle cx="260.60" cy="133.00" r="2.45" fill="#1b4a9f"/>
<circle cx="262.40" cy="135.00" r="2.45" fill="#1b4a9f"/>
<circle cx="263.90" cy="135.40" r="2.45" fill="#1b4a9f"/>
<circle cx="266.30" cy="132.20" r="2.45" fill="#1b4a9f"/>
<circle cx="268.60" cy="128.00" r="2.45" fill="#1b4a9f"/>
<circle cx="271.50" cy="124.00" r="2.45" fill="#1b4a9f"/>
<circle cx="274.40" cy="121.80" r="2.45" fill="#1b4a9f"/>
<circle cx="277.70" cy="113.40" r="2.45" fill="#1b4a9f"/>
<circle cx="280.30" cy="105.60" r="2.45" fill="#1b4a9f"/>
<circle cx="283.60" cy="96.50" r="2.45" fill="#1b4a9f"/>
<circle cx="285.60" cy="92.80" r="2.45" fill="#1b4a9f"/>
<circle cx="288.00" cy="91.00" r="2.45" fill="#1b4a9f"/>
<circle cx="291.00" cy="90.30" r="2.45" fill="#1b4a9f"/>
<circle cx="294.50" cy="90.00" r="2.45" fill="#1b4a9f"/>
<circle cx="297.50" cy="90.30" r="2.45" fill="#1b4a9f"/>
<circle cx="300.60" cy="91.00" r="2.45" fill="#1b4a9f"/>
<circle cx="303.30" cy="92.30" r="2.45" fill="#1b4a9f"/>
<circle cx="305.50" cy="94.30" r="2.45" fill="#1b4a9f"/>
<circle cx="307.30" cy="98.00" r="2.45" fill="#1b4a9f"/>
<circle cx="308.50" cy="102.00" r="2.45" fill="#1b4a9f"/>
<circle cx="309.50" cy="107.50" r="2.45" fill="#1b4a9f"/>
<circle cx="310.50" cy="113.00" r="2.45" fill="#1b4a9f"/>
<circle cx="311.70" cy="118.90" r="2.45" fill="#1b4a9f"/>
<circle cx="313.30" cy="123.00" r="2.45" fill="#1b4a9f"/>
<circle cx="315.20" cy="125.60" r="2.45" fill="#1b4a9f"/>
<circle cx="318.30" cy="126.20" r="2.45" fill="#1b4a9f"/>
<circle cx="321.70" cy="126.70" r="2.45" fill="#1b4a9f"/>
<circle cx="325.00" cy="126.40" r="2.45" fill="#1b4a9f"/>
<circle cx="328.30" cy="126.20" r="2.45" fill="#1b4a9f"/>
<circle cx="331.50" cy="127.00" r="2.45" fill="#1b4a9f"/>
<circle cx="335.00" cy="127.80" r="2.45" fill="#1b4a9f"/>
<circle cx="338.30" cy="128.30" r="2.45" fill="#1b4a9f"/>
<circle cx="341.70" cy="128.90" r="2.45" fill="#1b4a9f"/>
<circle cx="345.00" cy="129.50" r="2.45" fill="#1b4a9f"/>
<circle cx="348.30" cy="130.00" r="2.45" fill="#1b4a9f"/>
<circle cx="350.50" cy="130.50" r="2.45" fill="#1b4a9f"/>
<circle cx="352.80" cy="131.10" r="2.45" fill="#1b4a9f"/>
<line x1="321.20" y1="50.60" x2="337.60" y2="50.60" stroke="#2a54ad" stroke-width="1.6" />
<circle cx="329.80" cy="50.60" r="1.9" fill="#2a54ad"/>
<line x1="321.20" y1="60.80" x2="337.60" y2="60.80" stroke="#f5141e" stroke-width="1.6" />
<rect x="327.90" y="58.90" width="3.8" height="3.8" fill="#fff" stroke="#f5141e" stroke-width="1.3"/>
<line x1="417.00" y1="136.71" x2="539.92" y2="136.71" stroke="#ac58c6" stroke-width="1.35" stroke-dasharray="3.7 2.3"/>
<rect x="439.96" y="157.60" width="21.42" height="5.6" fill="#f5141e"/>
<line x1="411.40" y1="39.00" x2="411.40" y2="160.80" stroke="#2b2b2b" stroke-width="1.3" />
<line x1="407.80" y1="39.60" x2="411.40" y2="39.60" stroke="#2b2b2b" stroke-width="1.2" />
<line x1="407.80" y1="63.84" x2="411.40" y2="63.84" stroke="#2b2b2b" stroke-width="1.2" />
<line x1="407.80" y1="88.08" x2="411.40" y2="88.08" stroke="#2b2b2b" stroke-width="1.2" />
<line x1="407.80" y1="112.32" x2="411.40" y2="112.32" stroke="#2b2b2b" stroke-width="1.2" />
<line x1="407.80" y1="136.56" x2="411.40" y2="136.56" stroke="#2b2b2b" stroke-width="1.2" />
<line x1="407.80" y1="160.80" x2="411.40" y2="160.80" stroke="#2b2b2b" stroke-width="1.2" />
<line x1="409.20" y1="51.72" x2="411.40" y2="51.72" stroke="#2b2b2b" stroke-width="1.1" />
<line x1="409.20" y1="75.96" x2="411.40" y2="75.96" stroke="#2b2b2b" stroke-width="1.1" />
<line x1="409.20" y1="100.20" x2="411.40" y2="100.20" stroke="#2b2b2b" stroke-width="1.1" />
<line x1="409.20" y1="124.44" x2="411.40" y2="124.44" stroke="#2b2b2b" stroke-width="1.1" />
<line x1="409.20" y1="148.68" x2="411.40" y2="148.68" stroke="#2b2b2b" stroke-width="1.1" />
<line x1="410.80" y1="160.80" x2="539.92" y2="160.80" stroke="#2b2b2b" stroke-width="1.3" />
<line x1="411.40" y1="160.80" x2="411.40" y2="164.20" stroke="#2b2b2b" stroke-width="1.2" />
<line x1="418.54" y1="160.80" x2="418.54" y2="163.00" stroke="#2b2b2b" stroke-width="1.1" />
<line x1="425.68" y1="160.80" x2="425.68" y2="163.00" stroke="#2b2b2b" stroke-width="1.1" />
<line x1="432.82" y1="160.80" x2="432.82" y2="163.00" stroke="#2b2b2b" stroke-width="1.1" />
<line x1="439.96" y1="160.80" x2="439.96" y2="164.20" stroke="#2b2b2b" stroke-width="1.2" />
<line x1="447.10" y1="160.80" x2="447.10" y2="163.00" stroke="#2b2b2b" stroke-width="1.1" />
<line x1="454.24" y1="160.80" x2="454.24" y2="163.00" stroke="#2b2b2b" stroke-width="1.1" />
<line x1="461.38" y1="160.80" x2="461.38" y2="163.00" stroke="#2b2b2b" stroke-width="1.1" />
<line x1="468.52" y1="160.80" x2="468.52" y2="164.20" stroke="#2b2b2b" stroke-width="1.2" />
<line x1="475.66" y1="160.80" x2="475.66" y2="163.00" stroke="#2b2b2b" stroke-width="1.1" />
<line x1="482.80" y1="160.80" x2="482.80" y2="163.00" stroke="#2b2b2b" stroke-width="1.1" />
<line x1="489.94" y1="160.80" x2="489.94" y2="163.00" stroke="#2b2b2b" stroke-width="1.1" />
<line x1="497.08" y1="160.80" x2="497.08" y2="164.20" stroke="#2b2b2b" stroke-width="1.2" />
<line x1="504.22" y1="160.80" x2="504.22" y2="163.00" stroke="#2b2b2b" stroke-width="1.1" />
<line x1="511.36" y1="160.80" x2="511.36" y2="163.00" stroke="#2b2b2b" stroke-width="1.1" />
<line x1="518.50" y1="160.80" x2="518.50" y2="163.00" stroke="#2b2b2b" stroke-width="1.1" />
<line x1="525.64" y1="160.80" x2="525.64" y2="164.20" stroke="#2b2b2b" stroke-width="1.2" />
<line x1="532.78" y1="160.80" x2="532.78" y2="163.00" stroke="#2b2b2b" stroke-width="1.1" />
<line x1="539.92" y1="160.80" x2="539.92" y2="163.00" stroke="#2b2b2b" stroke-width="1.1" />
<polyline points="414.30,125.70 414.30,122.90 437.50,122.90 437.50,125.70" fill="none" stroke="#1a1a1a" stroke-width="1.3"/>
<line x1="425.90" y1="122.90" x2="425.90" y2="119.50" stroke="#1a1a1a" stroke-width="1.3" />
<polyline points="425.70,88.50 425.70,84.30 462.50,84.30 462.50,88.50" fill="none" stroke="#2a54ad" stroke-width="1.2"/>
<polyline points="425.70,103.80 425.70,100.00 462.50,100.00 462.50,103.80" fill="none" stroke="#f5141e" stroke-width="1.2"/>
<line x1="413.00" y1="130.20" x2="413.00" y2="137.20" stroke="#f5141e" stroke-width="1.0" />
<line x1="411.00" y1="130.20" x2="415.00" y2="130.20" stroke="#f5141e" stroke-width="1.0" />
<line x1="411.00" y1="137.20" x2="415.00" y2="137.20" stroke="#f5141e" stroke-width="1.0" />
<line x1="417.80" y1="128.30" x2="417.80" y2="135.30" stroke="#f5141e" stroke-width="1.0" />
<line x1="415.80" y1="128.30" x2="419.80" y2="128.30" stroke="#f5141e" stroke-width="1.0" />
<line x1="415.80" y1="135.30" x2="419.80" y2="135.30" stroke="#f5141e" stroke-width="1.0" />
<line x1="421.50" y1="130.50" x2="421.50" y2="137.50" stroke="#f5141e" stroke-width="1.0" />
<line x1="419.50" y1="130.50" x2="423.50" y2="130.50" stroke="#f5141e" stroke-width="1.0" />
<line x1="419.50" y1="137.50" x2="423.50" y2="137.50" stroke="#f5141e" stroke-width="1.0" />
<line x1="425.70" y1="129.20" x2="425.70" y2="136.20" stroke="#f5141e" stroke-width="1.0" />
<line x1="423.70" y1="129.20" x2="427.70" y2="129.20" stroke="#f5141e" stroke-width="1.0" />
<line x1="423.70" y1="136.20" x2="427.70" y2="136.20" stroke="#f5141e" stroke-width="1.0" />
<line x1="429.50" y1="130.50" x2="429.50" y2="137.50" stroke="#f5141e" stroke-width="1.0" />
<line x1="427.50" y1="130.50" x2="431.50" y2="130.50" stroke="#f5141e" stroke-width="1.0" />
<line x1="427.50" y1="137.50" x2="431.50" y2="137.50" stroke="#f5141e" stroke-width="1.0" />
<line x1="433.50" y1="126.30" x2="433.50" y2="133.30" stroke="#f5141e" stroke-width="1.0" />
<line x1="431.50" y1="126.30" x2="435.50" y2="126.30" stroke="#f5141e" stroke-width="1.0" />
<line x1="431.50" y1="133.30" x2="435.50" y2="133.30" stroke="#f5141e" stroke-width="1.0" />
<line x1="437.50" y1="136.10" x2="437.50" y2="143.10" stroke="#f5141e" stroke-width="1.0" />
<line x1="435.50" y1="136.10" x2="439.50" y2="136.10" stroke="#f5141e" stroke-width="1.0" />
<line x1="435.50" y1="143.10" x2="439.50" y2="143.10" stroke="#f5141e" stroke-width="1.0" />
<line x1="441.00" y1="128.00" x2="441.00" y2="135.00" stroke="#f5141e" stroke-width="1.0" />
<line x1="439.00" y1="128.00" x2="443.00" y2="128.00" stroke="#f5141e" stroke-width="1.0" />
<line x1="439.00" y1="135.00" x2="443.00" y2="135.00" stroke="#f5141e" stroke-width="1.0" />
<line x1="445.30" y1="125.30" x2="445.30" y2="132.30" stroke="#f5141e" stroke-width="1.0" />
<line x1="443.30" y1="125.30" x2="447.30" y2="125.30" stroke="#f5141e" stroke-width="1.0" />
<line x1="443.30" y1="132.30" x2="447.30" y2="132.30" stroke="#f5141e" stroke-width="1.0" />
<line x1="449.00" y1="128.50" x2="449.00" y2="135.50" stroke="#f5141e" stroke-width="1.0" />
<line x1="447.00" y1="128.50" x2="451.00" y2="128.50" stroke="#f5141e" stroke-width="1.0" />
<line x1="447.00" y1="135.50" x2="451.00" y2="135.50" stroke="#f5141e" stroke-width="1.0" />
<line x1="452.00" y1="127.50" x2="452.00" y2="134.50" stroke="#f5141e" stroke-width="1.0" />
<line x1="450.00" y1="127.50" x2="454.00" y2="127.50" stroke="#f5141e" stroke-width="1.0" />
<line x1="450.00" y1="134.50" x2="454.00" y2="134.50" stroke="#f5141e" stroke-width="1.0" />
<line x1="455.10" y1="125.30" x2="455.10" y2="132.30" stroke="#f5141e" stroke-width="1.0" />
<line x1="453.10" y1="125.30" x2="457.10" y2="125.30" stroke="#f5141e" stroke-width="1.0" />
<line x1="453.10" y1="132.30" x2="457.10" y2="132.30" stroke="#f5141e" stroke-width="1.0" />
<line x1="458.00" y1="122.50" x2="458.00" y2="129.50" stroke="#f5141e" stroke-width="1.0" />
<line x1="456.00" y1="122.50" x2="460.00" y2="122.50" stroke="#f5141e" stroke-width="1.0" />
<line x1="456.00" y1="129.50" x2="460.00" y2="129.50" stroke="#f5141e" stroke-width="1.0" />
<line x1="464.00" y1="112.50" x2="464.00" y2="119.50" stroke="#f5141e" stroke-width="1.0" />
<line x1="462.00" y1="112.50" x2="466.00" y2="112.50" stroke="#f5141e" stroke-width="1.0" />
<line x1="462.00" y1="119.50" x2="466.00" y2="119.50" stroke="#f5141e" stroke-width="1.0" />
<line x1="470.50" y1="101.50" x2="470.50" y2="111.50" stroke="#f5141e" stroke-width="1.0" />
<line x1="468.50" y1="101.50" x2="472.50" y2="101.50" stroke="#f5141e" stroke-width="1.0" />
<line x1="468.50" y1="111.50" x2="472.50" y2="111.50" stroke="#f5141e" stroke-width="1.0" />
<line x1="477.50" y1="94.50" x2="477.50" y2="104.50" stroke="#f5141e" stroke-width="1.0" />
<line x1="475.50" y1="94.50" x2="479.50" y2="94.50" stroke="#f5141e" stroke-width="1.0" />
<line x1="475.50" y1="104.50" x2="479.50" y2="104.50" stroke="#f5141e" stroke-width="1.0" />
<line x1="485.00" y1="88.50" x2="485.00" y2="98.50" stroke="#f5141e" stroke-width="1.0" />
<line x1="483.00" y1="88.50" x2="487.00" y2="88.50" stroke="#f5141e" stroke-width="1.0" />
<line x1="483.00" y1="98.50" x2="487.00" y2="98.50" stroke="#f5141e" stroke-width="1.0" />
<line x1="493.00" y1="82.50" x2="493.00" y2="92.50" stroke="#f5141e" stroke-width="1.0" />
<line x1="491.00" y1="82.50" x2="495.00" y2="82.50" stroke="#f5141e" stroke-width="1.0" />
<line x1="491.00" y1="92.50" x2="495.00" y2="92.50" stroke="#f5141e" stroke-width="1.0" />
<line x1="500.00" y1="78.50" x2="500.00" y2="88.50" stroke="#f5141e" stroke-width="1.0" />
<line x1="498.00" y1="78.50" x2="502.00" y2="78.50" stroke="#f5141e" stroke-width="1.0" />
<line x1="498.00" y1="88.50" x2="502.00" y2="88.50" stroke="#f5141e" stroke-width="1.0" />
<line x1="507.00" y1="77.00" x2="507.00" y2="87.00" stroke="#f5141e" stroke-width="1.0" />
<line x1="505.00" y1="77.00" x2="509.00" y2="77.00" stroke="#f5141e" stroke-width="1.0" />
<line x1="505.00" y1="87.00" x2="509.00" y2="87.00" stroke="#f5141e" stroke-width="1.0" />
<line x1="514.00" y1="81.50" x2="514.00" y2="91.50" stroke="#f5141e" stroke-width="1.0" />
<line x1="512.00" y1="81.50" x2="516.00" y2="81.50" stroke="#f5141e" stroke-width="1.0" />
<line x1="512.00" y1="91.50" x2="516.00" y2="91.50" stroke="#f5141e" stroke-width="1.0" />
<line x1="521.00" y1="84.50" x2="521.00" y2="94.50" stroke="#f5141e" stroke-width="1.0" />
<line x1="519.00" y1="84.50" x2="523.00" y2="84.50" stroke="#f5141e" stroke-width="1.0" />
<line x1="519.00" y1="94.50" x2="523.00" y2="94.50" stroke="#f5141e" stroke-width="1.0" />
<line x1="526.20" y1="83.00" x2="526.20" y2="93.00" stroke="#f5141e" stroke-width="1.0" />
<line x1="524.20" y1="83.00" x2="528.20" y2="83.00" stroke="#f5141e" stroke-width="1.0" />
<line x1="524.20" y1="93.00" x2="528.20" y2="93.00" stroke="#f5141e" stroke-width="1.0" />
<polyline points="413.00,133.70 417.80,131.80 421.50,134.00 425.70,132.70 429.50,134.00 433.50,129.80 437.50,139.60 441.00,131.50 445.30,128.80 449.00,132.00 452.00,131.00 455.10,128.80 458.00,126.00 461.50,121.50 464.00,116.00 467.30,110.50 470.50,106.50 474.00,103.00 477.50,99.50 481.00,96.50 485.00,93.50 489.00,90.50 493.00,87.50 496.50,84.50 500.00,83.50 503.50,82.50 507.00,82.00 510.50,83.50 514.00,86.50 517.50,88.50 521.00,89.50 524.50,89.00 526.20,88.00" fill="none" stroke="#f5141e" stroke-width="1.0" stroke-linejoin="round" />
<rect x="410.50" y="131.20" width="5.0" height="5.0" fill="#fff" stroke="#f5141e" stroke-width="1.2"/>
<rect x="415.30" y="129.30" width="5.0" height="5.0" fill="#fff" stroke="#f5141e" stroke-width="1.2"/>
<rect x="419.00" y="131.50" width="5.0" height="5.0" fill="#fff" stroke="#f5141e" stroke-width="1.2"/>
<rect x="423.20" y="130.20" width="5.0" height="5.0" fill="#fff" stroke="#f5141e" stroke-width="1.2"/>
<rect x="427.00" y="131.50" width="5.0" height="5.0" fill="#fff" stroke="#f5141e" stroke-width="1.2"/>
<rect x="431.00" y="127.30" width="5.0" height="5.0" fill="#fff" stroke="#f5141e" stroke-width="1.2"/>
<rect x="435.00" y="137.10" width="5.0" height="5.0" fill="#fff" stroke="#f5141e" stroke-width="1.2"/>
<rect x="438.50" y="129.00" width="5.0" height="5.0" fill="#fff" stroke="#f5141e" stroke-width="1.2"/>
<rect x="442.80" y="126.30" width="5.0" height="5.0" fill="#fff" stroke="#f5141e" stroke-width="1.2"/>
<rect x="446.50" y="129.50" width="5.0" height="5.0" fill="#fff" stroke="#f5141e" stroke-width="1.2"/>
<rect x="449.50" y="128.50" width="5.0" height="5.0" fill="#fff" stroke="#f5141e" stroke-width="1.2"/>
<rect x="452.60" y="126.30" width="5.0" height="5.0" fill="#fff" stroke="#f5141e" stroke-width="1.2"/>
<rect x="455.50" y="123.50" width="5.0" height="5.0" fill="#fff" stroke="#f5141e" stroke-width="1.2"/>
<rect x="459.00" y="119.00" width="5.0" height="5.0" fill="#fff" stroke="#f5141e" stroke-width="1.2"/>
<rect x="461.50" y="113.50" width="5.0" height="5.0" fill="#fff" stroke="#f5141e" stroke-width="1.2"/>
<rect x="464.80" y="108.00" width="5.0" height="5.0" fill="#fff" stroke="#f5141e" stroke-width="1.2"/>
<rect x="468.00" y="104.00" width="5.0" height="5.0" fill="#fff" stroke="#f5141e" stroke-width="1.2"/>
<rect x="471.50" y="100.50" width="5.0" height="5.0" fill="#fff" stroke="#f5141e" stroke-width="1.2"/>
<rect x="475.00" y="97.00" width="5.0" height="5.0" fill="#fff" stroke="#f5141e" stroke-width="1.2"/>
<rect x="478.50" y="94.00" width="5.0" height="5.0" fill="#fff" stroke="#f5141e" stroke-width="1.2"/>
<rect x="482.50" y="91.00" width="5.0" height="5.0" fill="#fff" stroke="#f5141e" stroke-width="1.2"/>
<rect x="486.50" y="88.00" width="5.0" height="5.0" fill="#fff" stroke="#f5141e" stroke-width="1.2"/>
<rect x="490.50" y="85.00" width="5.0" height="5.0" fill="#fff" stroke="#f5141e" stroke-width="1.2"/>
<rect x="494.00" y="82.00" width="5.0" height="5.0" fill="#fff" stroke="#f5141e" stroke-width="1.2"/>
<rect x="497.50" y="81.00" width="5.0" height="5.0" fill="#fff" stroke="#f5141e" stroke-width="1.2"/>
<rect x="501.00" y="80.00" width="5.0" height="5.0" fill="#fff" stroke="#f5141e" stroke-width="1.2"/>
<rect x="504.50" y="79.50" width="5.0" height="5.0" fill="#fff" stroke="#f5141e" stroke-width="1.2"/>
<rect x="508.00" y="81.00" width="5.0" height="5.0" fill="#fff" stroke="#f5141e" stroke-width="1.2"/>
<rect x="511.50" y="84.00" width="5.0" height="5.0" fill="#fff" stroke="#f5141e" stroke-width="1.2"/>
<rect x="515.00" y="86.00" width="5.0" height="5.0" fill="#fff" stroke="#f5141e" stroke-width="1.2"/>
<rect x="518.50" y="87.00" width="5.0" height="5.0" fill="#fff" stroke="#f5141e" stroke-width="1.2"/>
<rect x="522.00" y="86.50" width="5.0" height="5.0" fill="#fff" stroke="#f5141e" stroke-width="1.2"/>
<rect x="523.70" y="85.50" width="5.0" height="5.0" fill="#fff" stroke="#f5141e" stroke-width="1.2"/>
<line x1="476.00" y1="87.20" x2="476.00" y2="116.50" stroke="#2a54ad" stroke-width="1.1" />
<line x1="473.80" y1="87.20" x2="478.20" y2="87.20" stroke="#2a54ad" stroke-width="1.1" />
<line x1="473.80" y1="116.50" x2="478.20" y2="116.50" stroke="#2a54ad" stroke-width="1.1" />
<line x1="479.00" y1="86.20" x2="479.00" y2="111.30" stroke="#2a54ad" stroke-width="1.1" />
<line x1="476.80" y1="86.20" x2="481.20" y2="86.20" stroke="#2a54ad" stroke-width="1.1" />
<line x1="476.80" y1="111.30" x2="481.20" y2="111.30" stroke="#2a54ad" stroke-width="1.1" />
<line x1="482.30" y1="85.10" x2="482.30" y2="103.00" stroke="#2a54ad" stroke-width="1.1" />
<line x1="480.10" y1="85.10" x2="484.50" y2="85.10" stroke="#2a54ad" stroke-width="1.1" />
<line x1="480.10" y1="103.00" x2="484.50" y2="103.00" stroke="#2a54ad" stroke-width="1.1" />
<line x1="486.40" y1="85.10" x2="486.40" y2="105.00" stroke="#2a54ad" stroke-width="1.1" />
<line x1="484.20" y1="85.10" x2="488.60" y2="85.10" stroke="#2a54ad" stroke-width="1.1" />
<line x1="484.20" y1="105.00" x2="488.60" y2="105.00" stroke="#2a54ad" stroke-width="1.1" />
<line x1="489.60" y1="83.00" x2="489.60" y2="100.00" stroke="#2a54ad" stroke-width="1.1" />
<line x1="487.40" y1="83.00" x2="491.80" y2="83.00" stroke="#2a54ad" stroke-width="1.1" />
<line x1="487.40" y1="100.00" x2="491.80" y2="100.00" stroke="#2a54ad" stroke-width="1.1" />
<line x1="494.80" y1="81.00" x2="494.80" y2="98.70" stroke="#2a54ad" stroke-width="1.1" />
<line x1="492.60" y1="81.00" x2="497.00" y2="81.00" stroke="#2a54ad" stroke-width="1.1" />
<line x1="492.60" y1="98.70" x2="497.00" y2="98.70" stroke="#2a54ad" stroke-width="1.1" />
<line x1="499.00" y1="80.00" x2="499.00" y2="94.60" stroke="#2a54ad" stroke-width="1.1" />
<line x1="496.80" y1="80.00" x2="501.20" y2="80.00" stroke="#2a54ad" stroke-width="1.1" />
<line x1="496.80" y1="94.60" x2="501.20" y2="94.60" stroke="#2a54ad" stroke-width="1.1" />
<line x1="505.30" y1="66.30" x2="505.30" y2="102.90" stroke="#2a54ad" stroke-width="1.1" />
<line x1="503.10" y1="66.30" x2="507.50" y2="66.30" stroke="#2a54ad" stroke-width="1.1" />
<line x1="503.10" y1="102.90" x2="507.50" y2="102.90" stroke="#2a54ad" stroke-width="1.1" />
<line x1="509.50" y1="68.40" x2="509.50" y2="100.80" stroke="#2a54ad" stroke-width="1.1" />
<line x1="507.30" y1="68.40" x2="511.70" y2="68.40" stroke="#2a54ad" stroke-width="1.1" />
<line x1="507.30" y1="100.80" x2="511.70" y2="100.80" stroke="#2a54ad" stroke-width="1.1" />
<line x1="515.70" y1="76.80" x2="515.70" y2="98.70" stroke="#2a54ad" stroke-width="1.1" />
<line x1="513.50" y1="76.80" x2="517.90" y2="76.80" stroke="#2a54ad" stroke-width="1.1" />
<line x1="513.50" y1="98.70" x2="517.90" y2="98.70" stroke="#2a54ad" stroke-width="1.1" />
<line x1="522.00" y1="75.70" x2="522.00" y2="97.70" stroke="#2a54ad" stroke-width="1.1" />
<line x1="519.80" y1="75.70" x2="524.20" y2="75.70" stroke="#2a54ad" stroke-width="1.1" />
<line x1="519.80" y1="97.70" x2="524.20" y2="97.70" stroke="#2a54ad" stroke-width="1.1" />
<line x1="526.20" y1="72.60" x2="526.20" y2="95.60" stroke="#2a54ad" stroke-width="1.1" />
<line x1="524.00" y1="72.60" x2="528.40" y2="72.60" stroke="#2a54ad" stroke-width="1.1" />
<line x1="524.00" y1="95.60" x2="528.40" y2="95.60" stroke="#2a54ad" stroke-width="1.1" />
<polyline points="412.00,136.70 416.00,137.00 419.80,137.60 424.00,138.00 429.60,138.60 432.50,137.80 435.50,136.70 439.40,135.50 443.30,134.60 447.00,134.20 451.20,133.80 454.00,132.60 457.00,130.50 461.00,126.90 464.90,121.00 468.00,112.50 473.00,105.80 478.90,98.70 482.50,96.30 486.00,94.00 489.50,91.60 493.00,89.20 496.00,87.40 498.90,85.70 502.00,85.00 504.80,84.50 507.20,85.00 509.50,85.70 512.00,87.00 514.20,88.10 517.00,88.10 520.10,88.10 523.00,86.20 525.80,84.50" fill="none" stroke="#2a54ad" stroke-width="2.0" stroke-linejoin="round" />
<circle cx="412.00" cy="136.70" r="2.4" fill="#1b4a9f"/>
<circle cx="416.00" cy="137.00" r="2.4" fill="#1b4a9f"/>
<circle cx="419.80" cy="137.60" r="2.4" fill="#1b4a9f"/>
<circle cx="424.00" cy="138.00" r="2.4" fill="#1b4a9f"/>
<circle cx="429.60" cy="138.60" r="2.4" fill="#1b4a9f"/>
<circle cx="432.50" cy="137.80" r="2.4" fill="#1b4a9f"/>
<circle cx="435.50" cy="136.70" r="2.4" fill="#1b4a9f"/>
<circle cx="439.40" cy="135.50" r="2.4" fill="#1b4a9f"/>
<circle cx="443.30" cy="134.60" r="2.4" fill="#1b4a9f"/>
<circle cx="447.00" cy="134.20" r="2.4" fill="#1b4a9f"/>
<circle cx="451.20" cy="133.80" r="2.4" fill="#1b4a9f"/>
<circle cx="454.00" cy="132.60" r="2.4" fill="#1b4a9f"/>
<circle cx="457.00" cy="130.50" r="2.4" fill="#1b4a9f"/>
<circle cx="461.00" cy="126.90" r="2.4" fill="#1b4a9f"/>
<circle cx="464.90" cy="121.00" r="2.4" fill="#1b4a9f"/>
<circle cx="468.00" cy="112.50" r="2.4" fill="#1b4a9f"/>
<circle cx="473.00" cy="105.80" r="2.4" fill="#1b4a9f"/>
<circle cx="478.90" cy="98.70" r="2.4" fill="#1b4a9f"/>
<circle cx="482.50" cy="96.30" r="2.4" fill="#1b4a9f"/>
<circle cx="486.00" cy="94.00" r="2.4" fill="#1b4a9f"/>
<circle cx="489.50" cy="91.60" r="2.4" fill="#1b4a9f"/>
<circle cx="493.00" cy="89.20" r="2.4" fill="#1b4a9f"/>
<circle cx="496.00" cy="87.40" r="2.4" fill="#1b4a9f"/>
<circle cx="498.90" cy="85.70" r="2.4" fill="#1b4a9f"/>
<circle cx="502.00" cy="85.00" r="2.4" fill="#1b4a9f"/>
<circle cx="504.80" cy="84.50" r="2.4" fill="#1b4a9f"/>
<circle cx="507.20" cy="85.00" r="2.4" fill="#1b4a9f"/>
<circle cx="509.50" cy="85.70" r="2.4" fill="#1b4a9f"/>
<circle cx="512.00" cy="87.00" r="2.4" fill="#1b4a9f"/>
<circle cx="514.20" cy="88.10" r="2.4" fill="#1b4a9f"/>
<circle cx="517.00" cy="88.10" r="2.4" fill="#1b4a9f"/>
<circle cx="520.10" cy="88.10" r="2.4" fill="#1b4a9f"/>
<circle cx="523.00" cy="86.20" r="2.4" fill="#1b4a9f"/>
<circle cx="525.80" cy="84.50" r="2.4" fill="#1b4a9f"/>
<line x1="493.00" y1="51.00" x2="509.40" y2="51.00" stroke="#2a54ad" stroke-width="1.6" />
<circle cx="501.60" cy="51.00" r="1.9" fill="#2a54ad"/>
<line x1="493.00" y1="60.50" x2="509.40" y2="60.50" stroke="#f5141e" stroke-width="1.6" />
<rect x="499.70" y="58.60" width="3.8" height="3.8" fill="#fff" stroke="#f5141e" stroke-width="1.3"/>
<line x1="68.05" y1="309.58" x2="190.97" y2="309.58" stroke="#ac58c6" stroke-width="1.35" stroke-dasharray="3.7 2.3"/>
<rect x="91.01" y="346.45" width="21.42" height="5.6" fill="#f5141e"/>
<line x1="62.45" y1="228.40" x2="62.45" y2="349.65" stroke="#2b2b2b" stroke-width="1.3" />
<line x1="58.85" y1="229.00" x2="62.45" y2="229.00" stroke="#2b2b2b" stroke-width="1.2" />
<line x1="58.85" y1="249.11" x2="62.45" y2="249.11" stroke="#2b2b2b" stroke-width="1.2" />
<line x1="58.85" y1="269.22" x2="62.45" y2="269.22" stroke="#2b2b2b" stroke-width="1.2" />
<line x1="58.85" y1="289.32" x2="62.45" y2="289.32" stroke="#2b2b2b" stroke-width="1.2" />
<line x1="58.85" y1="309.43" x2="62.45" y2="309.43" stroke="#2b2b2b" stroke-width="1.2" />
<line x1="58.85" y1="329.54" x2="62.45" y2="329.54" stroke="#2b2b2b" stroke-width="1.2" />
<line x1="58.85" y1="349.65" x2="62.45" y2="349.65" stroke="#2b2b2b" stroke-width="1.2" />
<line x1="60.25" y1="239.05" x2="62.45" y2="239.05" stroke="#2b2b2b" stroke-width="1.1" />
<line x1="60.25" y1="259.16" x2="62.45" y2="259.16" stroke="#2b2b2b" stroke-width="1.1" />
<line x1="60.25" y1="279.27" x2="62.45" y2="279.27" stroke="#2b2b2b" stroke-width="1.1" />
<line x1="60.25" y1="299.38" x2="62.45" y2="299.38" stroke="#2b2b2b" stroke-width="1.1" />
<line x1="60.25" y1="319.49" x2="62.45" y2="319.49" stroke="#2b2b2b" stroke-width="1.1" />
<line x1="60.25" y1="339.60" x2="62.45" y2="339.60" stroke="#2b2b2b" stroke-width="1.1" />
<line x1="61.85" y1="349.65" x2="190.97" y2="349.65" stroke="#2b2b2b" stroke-width="1.3" />
<line x1="62.45" y1="349.65" x2="62.45" y2="353.05" stroke="#2b2b2b" stroke-width="1.2" />
<line x1="69.59" y1="349.65" x2="69.59" y2="351.85" stroke="#2b2b2b" stroke-width="1.1" />
<line x1="76.73" y1="349.65" x2="76.73" y2="351.85" stroke="#2b2b2b" stroke-width="1.1" />
<line x1="83.87" y1="349.65" x2="83.87" y2="351.85" stroke="#2b2b2b" stroke-width="1.1" />
<line x1="91.01" y1="349.65" x2="91.01" y2="353.05" stroke="#2b2b2b" stroke-width="1.2" />
<line x1="98.15" y1="349.65" x2="98.15" y2="351.85" stroke="#2b2b2b" stroke-width="1.1" />
<line x1="105.29" y1="349.65" x2="105.29" y2="351.85" stroke="#2b2b2b" stroke-width="1.1" />
<line x1="112.43" y1="349.65" x2="112.43" y2="351.85" stroke="#2b2b2b" stroke-width="1.1" />
<line x1="119.57" y1="349.65" x2="119.57" y2="353.05" stroke="#2b2b2b" stroke-width="1.2" />
<line x1="126.71" y1="349.65" x2="126.71" y2="351.85" stroke="#2b2b2b" stroke-width="1.1" />
<line x1="133.85" y1="349.65" x2="133.85" y2="351.85" stroke="#2b2b2b" stroke-width="1.1" />
<line x1="140.99" y1="349.65" x2="140.99" y2="351.85" stroke="#2b2b2b" stroke-width="1.1" />
<line x1="148.13" y1="349.65" x2="148.13" y2="353.05" stroke="#2b2b2b" stroke-width="1.2" />
<line x1="155.27" y1="349.65" x2="155.27" y2="351.85" stroke="#2b2b2b" stroke-width="1.1" />
<line x1="162.41" y1="349.65" x2="162.41" y2="351.85" stroke="#2b2b2b" stroke-width="1.1" />
<line x1="169.55" y1="349.65" x2="169.55" y2="351.85" stroke="#2b2b2b" stroke-width="1.1" />
<line x1="176.69" y1="349.65" x2="176.69" y2="353.05" stroke="#2b2b2b" stroke-width="1.2" />
<line x1="183.83" y1="349.65" x2="183.83" y2="351.85" stroke="#2b2b2b" stroke-width="1.1" />
<line x1="190.97" y1="349.65" x2="190.97" y2="351.85" stroke="#2b2b2b" stroke-width="1.1" />
<polyline points="63.70,298.80 63.70,296.00 87.40,296.00 87.40,298.80" fill="none" stroke="#1a1a1a" stroke-width="1.3"/>
<line x1="75.55" y1="296.00" x2="75.55" y2="292.60" stroke="#1a1a1a" stroke-width="1.3" />
<polyline points="75.40,249.90 75.40,245.50 112.30,245.50 112.30,249.90" fill="none" stroke="#2a54ad" stroke-width="1.2"/>
<line x1="73.70" y1="311.00" x2="73.70" y2="318.40" stroke="#f5141e" stroke-width="1.0" />
<line x1="71.30" y1="311.00" x2="76.10" y2="311.00" stroke="#f5141e" stroke-width="1.0" />
<line x1="71.30" y1="318.40" x2="76.10" y2="318.40" stroke="#f5141e" stroke-width="1.0" />
<line x1="79.40" y1="304.50" x2="79.40" y2="320.90" stroke="#f5141e" stroke-width="1.0" />
<line x1="77.00" y1="304.50" x2="81.80" y2="304.50" stroke="#f5141e" stroke-width="1.0" />
<line x1="77.00" y1="320.90" x2="81.80" y2="320.90" stroke="#f5141e" stroke-width="1.0" />
<line x1="84.90" y1="309.70" x2="84.90" y2="318.40" stroke="#f5141e" stroke-width="1.0" />
<line x1="82.50" y1="309.70" x2="87.30" y2="309.70" stroke="#f5141e" stroke-width="1.0" />
<line x1="82.50" y1="318.40" x2="87.30" y2="318.40" stroke="#f5141e" stroke-width="1.0" />
<line x1="90.40" y1="300.30" x2="90.40" y2="323.40" stroke="#f5141e" stroke-width="1.0" />
<line x1="88.00" y1="300.30" x2="92.80" y2="300.30" stroke="#f5141e" stroke-width="1.0" />
<line x1="88.00" y1="323.40" x2="92.80" y2="323.40" stroke="#f5141e" stroke-width="1.0" />
<line x1="97.40" y1="311.50" x2="97.40" y2="323.00" stroke="#f5141e" stroke-width="1.0" />
<line x1="95.00" y1="311.50" x2="99.80" y2="311.50" stroke="#f5141e" stroke-width="1.0" />
<line x1="95.00" y1="323.00" x2="99.80" y2="323.00" stroke="#f5141e" stroke-width="1.0" />
<line x1="102.30" y1="313.00" x2="102.30" y2="322.00" stroke="#f5141e" stroke-width="1.0" />
<line x1="99.90" y1="313.00" x2="104.70" y2="313.00" stroke="#f5141e" stroke-width="1.0" />
<line x1="99.90" y1="322.00" x2="104.70" y2="322.00" stroke="#f5141e" stroke-width="1.0" />
<line x1="107.30" y1="310.00" x2="107.30" y2="319.50" stroke="#f5141e" stroke-width="1.0" />
<line x1="104.90" y1="310.00" x2="109.70" y2="310.00" stroke="#f5141e" stroke-width="1.0" />
<line x1="104.90" y1="319.50" x2="109.70" y2="319.50" stroke="#f5141e" stroke-width="1.0" />
<line x1="113.50" y1="308.00" x2="113.50" y2="317.00" stroke="#f5141e" stroke-width="1.0" />
<line x1="111.10" y1="308.00" x2="115.90" y2="308.00" stroke="#f5141e" stroke-width="1.0" />
<line x1="111.10" y1="317.00" x2="115.90" y2="317.00" stroke="#f5141e" stroke-width="1.0" />
<line x1="119.80" y1="305.00" x2="119.80" y2="314.00" stroke="#f5141e" stroke-width="1.0" />
<line x1="117.40" y1="305.00" x2="122.20" y2="305.00" stroke="#f5141e" stroke-width="1.0" />
<line x1="117.40" y1="314.00" x2="122.20" y2="314.00" stroke="#f5141e" stroke-width="1.0" />
<line x1="125.20" y1="310.80" x2="125.20" y2="323.90" stroke="#f5141e" stroke-width="1.0" />
<line x1="122.80" y1="310.80" x2="127.60" y2="310.80" stroke="#f5141e" stroke-width="1.0" />
<line x1="122.80" y1="323.90" x2="127.60" y2="323.90" stroke="#f5141e" stroke-width="1.0" />
<line x1="130.60" y1="297.20" x2="130.60" y2="324.50" stroke="#f5141e" stroke-width="1.0" />
<line x1="128.20" y1="297.20" x2="133.00" y2="297.20" stroke="#f5141e" stroke-width="1.0" />
<line x1="128.20" y1="324.50" x2="133.00" y2="324.50" stroke="#f5141e" stroke-width="1.0" />
<line x1="136.60" y1="300.00" x2="136.60" y2="310.00" stroke="#f5141e" stroke-width="1.0" />
<line x1="134.20" y1="300.00" x2="139.00" y2="300.00" stroke="#f5141e" stroke-width="1.0" />
<line x1="134.20" y1="310.00" x2="139.00" y2="310.00" stroke="#f5141e" stroke-width="1.0" />
<line x1="142.00" y1="315.40" x2="142.00" y2="325.90" stroke="#f5141e" stroke-width="1.0" />
<line x1="139.60" y1="315.40" x2="144.40" y2="315.40" stroke="#f5141e" stroke-width="1.0" />
<line x1="139.60" y1="325.90" x2="144.40" y2="325.90" stroke="#f5141e" stroke-width="1.0" />
<line x1="147.90" y1="289.80" x2="147.90" y2="316.00" stroke="#f5141e" stroke-width="1.0" />
<line x1="145.50" y1="289.80" x2="150.30" y2="289.80" stroke="#f5141e" stroke-width="1.0" />
<line x1="145.50" y1="316.00" x2="150.30" y2="316.00" stroke="#f5141e" stroke-width="1.0" />
<line x1="153.50" y1="290.50" x2="153.50" y2="307.00" stroke="#f5141e" stroke-width="1.0" />
<line x1="151.10" y1="290.50" x2="155.90" y2="290.50" stroke="#f5141e" stroke-width="1.0" />
<line x1="151.10" y1="307.00" x2="155.90" y2="307.00" stroke="#f5141e" stroke-width="1.0" />
<line x1="159.60" y1="304.00" x2="159.60" y2="313.00" stroke="#f5141e" stroke-width="1.0" />
<line x1="157.20" y1="304.00" x2="162.00" y2="304.00" stroke="#f5141e" stroke-width="1.0" />
<line x1="157.20" y1="313.00" x2="162.00" y2="313.00" stroke="#f5141e" stroke-width="1.0" />
<line x1="165.00" y1="310.50" x2="165.00" y2="319.50" stroke="#f5141e" stroke-width="1.0" />
<line x1="162.60" y1="310.50" x2="167.40" y2="310.50" stroke="#f5141e" stroke-width="1.0" />
<line x1="162.60" y1="319.50" x2="167.40" y2="319.50" stroke="#f5141e" stroke-width="1.0" />
<line x1="170.90" y1="312.00" x2="170.90" y2="321.50" stroke="#f5141e" stroke-width="1.0" />
<line x1="168.50" y1="312.00" x2="173.30" y2="312.00" stroke="#f5141e" stroke-width="1.0" />
<line x1="168.50" y1="321.50" x2="173.30" y2="321.50" stroke="#f5141e" stroke-width="1.0" />
<line x1="176.70" y1="308.50" x2="176.70" y2="317.00" stroke="#f5141e" stroke-width="1.0" />
<line x1="174.30" y1="308.50" x2="179.10" y2="308.50" stroke="#f5141e" stroke-width="1.0" />
<line x1="174.30" y1="317.00" x2="179.10" y2="317.00" stroke="#f5141e" stroke-width="1.0" />
<polyline points="67.50,309.70 73.70,312.20 79.40,309.70 84.90,311.00 90.40,309.70 97.40,317.20 102.30,317.20 107.30,314.70 113.50,312.20 119.80,309.50 125.20,317.40 130.60,310.80 136.60,305.20 142.00,320.80 147.90,303.50 153.50,299.00 159.60,308.50 165.00,314.90 170.90,316.80 176.70,312.80" fill="none" stroke="#f5141e" stroke-width="1.0" stroke-linejoin="round" />
<rect x="65.00" y="307.20" width="5.0" height="5.0" fill="#fff" stroke="#f5141e" stroke-width="1.2"/>
<rect x="71.20" y="309.70" width="5.0" height="5.0" fill="#fff" stroke="#f5141e" stroke-width="1.2"/>
<rect x="76.90" y="307.20" width="5.0" height="5.0" fill="#fff" stroke="#f5141e" stroke-width="1.2"/>
<rect x="82.40" y="308.50" width="5.0" height="5.0" fill="#fff" stroke="#f5141e" stroke-width="1.2"/>
<rect x="87.90" y="307.20" width="5.0" height="5.0" fill="#fff" stroke="#f5141e" stroke-width="1.2"/>
<rect x="94.90" y="314.70" width="5.0" height="5.0" fill="#fff" stroke="#f5141e" stroke-width="1.2"/>
<rect x="99.80" y="314.70" width="5.0" height="5.0" fill="#fff" stroke="#f5141e" stroke-width="1.2"/>
<rect x="104.80" y="312.20" width="5.0" height="5.0" fill="#fff" stroke="#f5141e" stroke-width="1.2"/>
<rect x="111.00" y="309.70" width="5.0" height="5.0" fill="#fff" stroke="#f5141e" stroke-width="1.2"/>
<rect x="117.30" y="307.00" width="5.0" height="5.0" fill="#fff" stroke="#f5141e" stroke-width="1.2"/>
<rect x="122.70" y="314.90" width="5.0" height="5.0" fill="#fff" stroke="#f5141e" stroke-width="1.2"/>
<rect x="128.10" y="308.30" width="5.0" height="5.0" fill="#fff" stroke="#f5141e" stroke-width="1.2"/>
<rect x="134.10" y="302.70" width="5.0" height="5.0" fill="#fff" stroke="#f5141e" stroke-width="1.2"/>
<rect x="139.50" y="318.30" width="5.0" height="5.0" fill="#fff" stroke="#f5141e" stroke-width="1.2"/>
<rect x="145.40" y="301.00" width="5.0" height="5.0" fill="#fff" stroke="#f5141e" stroke-width="1.2"/>
<rect x="151.00" y="296.50" width="5.0" height="5.0" fill="#fff" stroke="#f5141e" stroke-width="1.2"/>
<rect x="157.10" y="306.00" width="5.0" height="5.0" fill="#fff" stroke="#f5141e" stroke-width="1.2"/>
<rect x="162.50" y="312.40" width="5.0" height="5.0" fill="#fff" stroke="#f5141e" stroke-width="1.2"/>
<rect x="168.40" y="314.30" width="5.0" height="5.0" fill="#fff" stroke="#f5141e" stroke-width="1.2"/>
<rect x="174.20" y="310.30" width="5.0" height="5.0" fill="#fff" stroke="#f5141e" stroke-width="1.2"/>
<line x1="73.70" y1="309.70" x2="73.70" y2="318.40" stroke="#2a54ad" stroke-width="1.1" />
<line x1="71.30" y1="309.70" x2="76.10" y2="309.70" stroke="#2a54ad" stroke-width="1.1" />
<line x1="71.30" y1="318.40" x2="76.10" y2="318.40" stroke="#2a54ad" stroke-width="1.1" />
<line x1="79.40" y1="304.70" x2="79.40" y2="320.90" stroke="#2a54ad" stroke-width="1.1" />
<line x1="77.00" y1="304.70" x2="81.80" y2="304.70" stroke="#2a54ad" stroke-width="1.1" />
<line x1="77.00" y1="320.90" x2="81.80" y2="320.90" stroke="#2a54ad" stroke-width="1.1" />
<line x1="84.90" y1="309.70" x2="84.90" y2="318.40" stroke="#2a54ad" stroke-width="1.1" />
<line x1="82.50" y1="309.70" x2="87.30" y2="309.70" stroke="#2a54ad" stroke-width="1.1" />
<line x1="82.50" y1="318.40" x2="87.30" y2="318.40" stroke="#2a54ad" stroke-width="1.1" />
<line x1="90.40" y1="300.30" x2="90.40" y2="323.40" stroke="#2a54ad" stroke-width="1.1" />
<line x1="88.00" y1="300.30" x2="92.80" y2="300.30" stroke="#2a54ad" stroke-width="1.1" />
<line x1="88.00" y1="323.40" x2="92.80" y2="323.40" stroke="#2a54ad" stroke-width="1.1" />
<line x1="96.10" y1="317.20" x2="96.10" y2="327.70" stroke="#2a54ad" stroke-width="1.1" />
<line x1="93.70" y1="317.20" x2="98.50" y2="317.20" stroke="#2a54ad" stroke-width="1.1" />
<line x1="93.70" y1="327.70" x2="98.50" y2="327.70" stroke="#2a54ad" stroke-width="1.1" />
<line x1="102.30" y1="302.30" x2="102.30" y2="312.00" stroke="#2a54ad" stroke-width="1.1" />
<line x1="99.90" y1="302.30" x2="104.70" y2="302.30" stroke="#2a54ad" stroke-width="1.1" />
<line x1="99.90" y1="312.00" x2="104.70" y2="312.00" stroke="#2a54ad" stroke-width="1.1" />
<line x1="107.80" y1="281.00" x2="107.80" y2="298.50" stroke="#2a54ad" stroke-width="1.1" />
<line x1="105.40" y1="281.00" x2="110.20" y2="281.00" stroke="#2a54ad" stroke-width="1.1" />
<line x1="105.40" y1="298.50" x2="110.20" y2="298.50" stroke="#2a54ad" stroke-width="1.1" />
<line x1="113.50" y1="259.90" x2="113.50" y2="274.90" stroke="#2a54ad" stroke-width="1.1" />
<line x1="111.10" y1="259.90" x2="115.90" y2="259.90" stroke="#2a54ad" stroke-width="1.1" />
<line x1="111.10" y1="274.90" x2="115.90" y2="274.90" stroke="#2a54ad" stroke-width="1.1" />
<line x1="119.80" y1="248.70" x2="119.80" y2="267.40" stroke="#2a54ad" stroke-width="1.1" />
<line x1="117.40" y1="248.70" x2="122.20" y2="248.70" stroke="#2a54ad" stroke-width="1.1" />
<line x1="117.40" y1="267.40" x2="122.20" y2="267.40" stroke="#2a54ad" stroke-width="1.1" />
<line x1="125.20" y1="266.00" x2="125.20" y2="276.00" stroke="#2a54ad" stroke-width="1.1" />
<line x1="122.80" y1="266.00" x2="127.60" y2="266.00" stroke="#2a54ad" stroke-width="1.1" />
<line x1="122.80" y1="276.00" x2="127.60" y2="276.00" stroke="#2a54ad" stroke-width="1.1" />
<line x1="131.00" y1="264.90" x2="131.00" y2="289.80" stroke="#2a54ad" stroke-width="1.1" />
<line x1="128.60" y1="264.90" x2="133.40" y2="264.90" stroke="#2a54ad" stroke-width="1.1" />
<line x1="128.60" y1="289.80" x2="133.40" y2="289.80" stroke="#2a54ad" stroke-width="1.1" />
<line x1="136.40" y1="280.60" x2="136.40" y2="289.80" stroke="#2a54ad" stroke-width="1.1" />
<line x1="134.00" y1="280.60" x2="138.80" y2="280.60" stroke="#2a54ad" stroke-width="1.1" />
<line x1="134.00" y1="289.80" x2="138.80" y2="289.80" stroke="#2a54ad" stroke-width="1.1" />
<line x1="142.00" y1="304.20" x2="142.00" y2="316.00" stroke="#2a54ad" stroke-width="1.1" />
<line x1="139.60" y1="304.20" x2="144.40" y2="304.20" stroke="#2a54ad" stroke-width="1.1" />
<line x1="139.60" y1="316.00" x2="144.40" y2="316.00" stroke="#2a54ad" stroke-width="1.1" />
<line x1="147.90" y1="286.60" x2="147.90" y2="312.10" stroke="#2a54ad" stroke-width="1.1" />
<line x1="145.50" y1="286.60" x2="150.30" y2="286.60" stroke="#2a54ad" stroke-width="1.1" />
<line x1="145.50" y1="312.10" x2="150.30" y2="312.10" stroke="#2a54ad" stroke-width="1.1" />
<line x1="153.80" y1="284.60" x2="153.80" y2="301.00" stroke="#2a54ad" stroke-width="1.1" />
<line x1="151.40" y1="284.60" x2="156.20" y2="284.60" stroke="#2a54ad" stroke-width="1.1" />
<line x1="151.40" y1="301.00" x2="156.20" y2="301.00" stroke="#2a54ad" stroke-width="1.1" />
<line x1="159.50" y1="301.00" x2="159.50" y2="307.50" stroke="#2a54ad" stroke-width="1.1" />
<line x1="157.10" y1="301.00" x2="161.90" y2="301.00" stroke="#2a54ad" stroke-width="1.1" />
<line x1="157.10" y1="307.50" x2="161.90" y2="307.50" stroke="#2a54ad" stroke-width="1.1" />
<line x1="165.00" y1="307.00" x2="165.00" y2="313.50" stroke="#2a54ad" stroke-width="1.1" />
<line x1="162.60" y1="307.00" x2="167.40" y2="307.00" stroke="#2a54ad" stroke-width="1.1" />
<line x1="162.60" y1="313.50" x2="167.40" y2="313.50" stroke="#2a54ad" stroke-width="1.1" />
<line x1="170.90" y1="308.20" x2="170.90" y2="318.00" stroke="#2a54ad" stroke-width="1.1" />
<line x1="168.50" y1="308.20" x2="173.30" y2="308.20" stroke="#2a54ad" stroke-width="1.1" />
<line x1="168.50" y1="318.00" x2="173.30" y2="318.00" stroke="#2a54ad" stroke-width="1.1" />
<line x1="176.70" y1="303.00" x2="176.70" y2="312.80" stroke="#2a54ad" stroke-width="1.1" />
<line x1="174.30" y1="303.00" x2="179.10" y2="303.00" stroke="#2a54ad" stroke-width="1.1" />
<line x1="174.30" y1="312.80" x2="179.10" y2="312.80" stroke="#2a54ad" stroke-width="1.1" />
<polyline points="67.50,309.20 73.70,314.70 79.40,313.50 84.90,314.70 90.40,313.00 96.10,322.20 102.30,307.20 107.80,289.80 113.50,266.90 119.80,257.90 125.20,271.00 131.00,277.20 136.40,284.60 142.00,310.50 147.90,299.70 153.80,293.30 159.50,304.20 165.00,310.10 170.90,312.80 176.70,308.20" fill="none" stroke="#2a54ad" stroke-width="1.2" stroke-linejoin="round" />
<circle cx="67.50" cy="309.20" r="2.4" fill="#1b4a9f"/>
<circle cx="73.70" cy="314.70" r="2.4" fill="#1b4a9f"/>
<circle cx="79.40" cy="313.50" r="2.4" fill="#1b4a9f"/>
<circle cx="84.90" cy="314.70" r="2.4" fill="#1b4a9f"/>
<circle cx="90.40" cy="313.00" r="2.4" fill="#1b4a9f"/>
<circle cx="96.10" cy="322.20" r="2.4" fill="#1b4a9f"/>
<circle cx="102.30" cy="307.20" r="2.4" fill="#1b4a9f"/>
<circle cx="107.80" cy="289.80" r="2.4" fill="#1b4a9f"/>
<circle cx="113.50" cy="266.90" r="2.4" fill="#1b4a9f"/>
<circle cx="119.80" cy="257.90" r="2.4" fill="#1b4a9f"/>
<circle cx="125.20" cy="271.00" r="2.4" fill="#1b4a9f"/>
<circle cx="131.00" cy="277.20" r="2.4" fill="#1b4a9f"/>
<circle cx="136.40" cy="284.60" r="2.4" fill="#1b4a9f"/>
<circle cx="142.00" cy="310.50" r="2.4" fill="#1b4a9f"/>
<circle cx="147.90" cy="299.70" r="2.4" fill="#1b4a9f"/>
<circle cx="153.80" cy="293.30" r="2.4" fill="#1b4a9f"/>
<circle cx="159.50" cy="304.20" r="2.4" fill="#1b4a9f"/>
<circle cx="165.00" cy="310.10" r="2.4" fill="#1b4a9f"/>
<circle cx="170.90" cy="312.80" r="2.4" fill="#1b4a9f"/>
<circle cx="176.70" cy="308.20" r="2.4" fill="#1b4a9f"/>
<line x1="149.70" y1="234.20" x2="166.10" y2="234.20" stroke="#2a54ad" stroke-width="1.6" />
<circle cx="158.30" cy="234.20" r="1.9" fill="#2a54ad"/>
<line x1="149.70" y1="244.60" x2="166.10" y2="244.60" stroke="#f5141e" stroke-width="1.6" />
<rect x="156.40" y="242.70" width="3.8" height="3.8" fill="#fff" stroke="#f5141e" stroke-width="1.3"/>
<line x1="243.70" y1="332.32" x2="366.62" y2="332.32" stroke="#ac58c6" stroke-width="1.35" stroke-dasharray="3.7 2.3"/>
<rect x="266.66" y="346.30" width="21.42" height="5.6" fill="#f5141e"/>
<line x1="238.10" y1="227.60" x2="238.10" y2="349.50" stroke="#2b2b2b" stroke-width="1.3" />
<line x1="234.50" y1="228.20" x2="238.10" y2="228.20" stroke="#2b2b2b" stroke-width="1.2" />
<line x1="234.50" y1="262.86" x2="238.10" y2="262.86" stroke="#2b2b2b" stroke-width="1.2" />
<line x1="234.50" y1="297.51" x2="238.10" y2="297.51" stroke="#2b2b2b" stroke-width="1.2" />
<line x1="234.50" y1="332.17" x2="238.10" y2="332.17" stroke="#2b2b2b" stroke-width="1.2" />
<line x1="235.90" y1="245.53" x2="238.10" y2="245.53" stroke="#2b2b2b" stroke-width="1.1" />
<line x1="235.90" y1="280.19" x2="238.10" y2="280.19" stroke="#2b2b2b" stroke-width="1.1" />
<line x1="235.90" y1="314.84" x2="238.10" y2="314.84" stroke="#2b2b2b" stroke-width="1.1" />
<line x1="235.90" y1="349.50" x2="238.10" y2="349.50" stroke="#2b2b2b" stroke-width="1.1" />
<line x1="237.50" y1="349.50" x2="366.62" y2="349.50" stroke="#2b2b2b" stroke-width="1.3" />
<line x1="238.10" y1="349.50" x2="238.10" y2="352.90" stroke="#2b2b2b" stroke-width="1.2" />
<line x1="245.24" y1="349.50" x2="245.24" y2="351.70" stroke="#2b2b2b" stroke-width="1.1" />
<line x1="252.38" y1="349.50" x2="252.38" y2="351.70" stroke="#2b2b2b" stroke-width="1.1" />
<line x1="259.52" y1="349.50" x2="259.52" y2="351.70" stroke="#2b2b2b" stroke-width="1.1" />
<line x1="266.66" y1="349.50" x2="266.66" y2="352.90" stroke="#2b2b2b" stroke-width="1.2" />
<line x1="273.80" y1="349.50" x2="273.80" y2="351.70" stroke="#2b2b2b" stroke-width="1.1" />
<line x1="280.94" y1="349.50" x2="280.94" y2="351.70" stroke="#2b2b2b" stroke-width="1.1" />
<line x1="288.08" y1="349.50" x2="288.08" y2="351.70" stroke="#2b2b2b" stroke-width="1.1" />
<line x1="295.22" y1="349.50" x2="295.22" y2="352.90" stroke="#2b2b2b" stroke-width="1.2" />
<line x1="302.36" y1="349.50" x2="302.36" y2="351.70" stroke="#2b2b2b" stroke-width="1.1" />
<line x1="309.50" y1="349.50" x2="309.50" y2="351.70" stroke="#2b2b2b" stroke-width="1.1" />
<line x1="316.64" y1="349.50" x2="316.64" y2="351.70" stroke="#2b2b2b" stroke-width="1.1" />
<line x1="323.78" y1="349.50" x2="323.78" y2="352.90" stroke="#2b2b2b" stroke-width="1.2" />
<line x1="330.92" y1="349.50" x2="330.92" y2="351.70" stroke="#2b2b2b" stroke-width="1.1" />
<line x1="338.06" y1="349.50" x2="338.06" y2="351.70" stroke="#2b2b2b" stroke-width="1.1" />
<line x1="345.20" y1="349.50" x2="345.20" y2="351.70" stroke="#2b2b2b" stroke-width="1.1" />
<line x1="352.34" y1="349.50" x2="352.34" y2="352.90" stroke="#2b2b2b" stroke-width="1.2" />
<line x1="359.48" y1="349.50" x2="359.48" y2="351.70" stroke="#2b2b2b" stroke-width="1.1" />
<line x1="366.62" y1="349.50" x2="366.62" y2="351.70" stroke="#2b2b2b" stroke-width="1.1" />
<polyline points="241.20,323.50 241.20,320.70 264.20,320.70 264.20,323.50" fill="none" stroke="#1a1a1a" stroke-width="1.3"/>
<line x1="252.70" y1="320.70" x2="252.70" y2="317.30" stroke="#1a1a1a" stroke-width="1.3" />
<polyline points="252.30,267.30 252.30,263.10 289.30,263.10 289.30,267.30" fill="none" stroke="#2a54ad" stroke-width="1.2"/>
<polyline points="252.30,311.90 252.30,307.70 289.30,307.70 289.30,311.90" fill="none" stroke="#f5141e" stroke-width="1.2"/>
<line x1="280.10" y1="318.70" x2="280.10" y2="323.90" stroke="#f5141e" stroke-width="1.0" />
<line x1="278.10" y1="318.70" x2="282.10" y2="318.70" stroke="#f5141e" stroke-width="1.0" />
<line x1="278.10" y1="323.90" x2="282.10" y2="323.90" stroke="#f5141e" stroke-width="1.0" />
<line x1="286.90" y1="316.30" x2="286.90" y2="321.50" stroke="#f5141e" stroke-width="1.0" />
<line x1="284.90" y1="316.30" x2="288.90" y2="316.30" stroke="#f5141e" stroke-width="1.0" />
<line x1="284.90" y1="321.50" x2="288.90" y2="321.50" stroke="#f5141e" stroke-width="1.0" />
<line x1="294.20" y1="315.20" x2="294.20" y2="320.40" stroke="#f5141e" stroke-width="1.0" />
<line x1="292.20" y1="315.20" x2="296.20" y2="315.20" stroke="#f5141e" stroke-width="1.0" />
<line x1="292.20" y1="320.40" x2="296.20" y2="320.40" stroke="#f5141e" stroke-width="1.0" />
<line x1="301.40" y1="318.10" x2="301.40" y2="323.30" stroke="#f5141e" stroke-width="1.0" />
<line x1="299.40" y1="318.10" x2="303.40" y2="318.10" stroke="#f5141e" stroke-width="1.0" />
<line x1="299.40" y1="323.30" x2="303.40" y2="323.30" stroke="#f5141e" stroke-width="1.0" />
<line x1="308.60" y1="320.80" x2="308.60" y2="326.00" stroke="#f5141e" stroke-width="1.0" />
<line x1="306.60" y1="320.80" x2="310.60" y2="320.80" stroke="#f5141e" stroke-width="1.0" />
<line x1="306.60" y1="326.00" x2="310.60" y2="326.00" stroke="#f5141e" stroke-width="1.0" />
<line x1="315.80" y1="323.30" x2="315.80" y2="328.50" stroke="#f5141e" stroke-width="1.0" />
<line x1="313.80" y1="323.30" x2="317.80" y2="323.30" stroke="#f5141e" stroke-width="1.0" />
<line x1="313.80" y1="328.50" x2="317.80" y2="328.50" stroke="#f5141e" stroke-width="1.0" />
<polyline points="239.10,331.10 242.60,331.80 246.10,331.30 249.60,332.20 253.10,331.40 256.60,332.50 260.10,332.20 263.30,331.60 266.50,330.30 269.90,328.60 273.30,326.10 276.70,323.50 280.10,321.30 283.50,320.10 286.90,318.90 290.50,318.10 294.20,317.80 297.80,319.00 301.40,320.70 305.00,322.20 308.60,323.40 312.20,324.80 315.80,325.90 319.40,327.30 323.00,328.90 326.60,330.10 330.20,331.00 333.80,331.80 337.40,332.30 341.00,332.10 344.60,331.80 348.20,331.60 352.00,331.40" fill="none" stroke="#f5141e" stroke-width="1.0" stroke-linejoin="round" />
<rect x="236.95" y="328.95" width="4.3" height="4.3" fill="#fff" stroke="#f5141e" stroke-width="1.25"/>
<rect x="240.45" y="329.65" width="4.3" height="4.3" fill="#fff" stroke="#f5141e" stroke-width="1.25"/>
<rect x="243.95" y="329.15" width="4.3" height="4.3" fill="#fff" stroke="#f5141e" stroke-width="1.25"/>
<rect x="247.45" y="330.05" width="4.3" height="4.3" fill="#fff" stroke="#f5141e" stroke-width="1.25"/>
<rect x="250.95" y="329.25" width="4.3" height="4.3" fill="#fff" stroke="#f5141e" stroke-width="1.25"/>
<rect x="254.45" y="330.35" width="4.3" height="4.3" fill="#fff" stroke="#f5141e" stroke-width="1.25"/>
<rect x="257.95" y="330.05" width="4.3" height="4.3" fill="#fff" stroke="#f5141e" stroke-width="1.25"/>
<rect x="261.15" y="329.45" width="4.3" height="4.3" fill="#fff" stroke="#f5141e" stroke-width="1.25"/>
<rect x="264.35" y="328.15" width="4.3" height="4.3" fill="#fff" stroke="#f5141e" stroke-width="1.25"/>
<rect x="267.75" y="326.45" width="4.3" height="4.3" fill="#fff" stroke="#f5141e" stroke-width="1.25"/>
<rect x="271.15" y="323.95" width="4.3" height="4.3" fill="#fff" stroke="#f5141e" stroke-width="1.25"/>
<rect x="274.55" y="321.35" width="4.3" height="4.3" fill="#fff" stroke="#f5141e" stroke-width="1.25"/>
<rect x="277.95" y="319.15" width="4.3" height="4.3" fill="#fff" stroke="#f5141e" stroke-width="1.25"/>
<rect x="281.35" y="317.95" width="4.3" height="4.3" fill="#fff" stroke="#f5141e" stroke-width="1.25"/>
<rect x="284.75" y="316.75" width="4.3" height="4.3" fill="#fff" stroke="#f5141e" stroke-width="1.25"/>
<rect x="288.35" y="315.95" width="4.3" height="4.3" fill="#fff" stroke="#f5141e" stroke-width="1.25"/>
<rect x="292.05" y="315.65" width="4.3" height="4.3" fill="#fff" stroke="#f5141e" stroke-width="1.25"/>
<rect x="295.65" y="316.85" width="4.3" height="4.3" fill="#fff" stroke="#f5141e" stroke-width="1.25"/>
<rect x="299.25" y="318.55" width="4.3" height="4.3" fill="#fff" stroke="#f5141e" stroke-width="1.25"/>
<rect x="302.85" y="320.05" width="4.3" height="4.3" fill="#fff" stroke="#f5141e" stroke-width="1.25"/>
<rect x="306.45" y="321.25" width="4.3" height="4.3" fill="#fff" stroke="#f5141e" stroke-width="1.25"/>
<rect x="310.05" y="322.65" width="4.3" height="4.3" fill="#fff" stroke="#f5141e" stroke-width="1.25"/>
<rect x="313.65" y="323.75" width="4.3" height="4.3" fill="#fff" stroke="#f5141e" stroke-width="1.25"/>
<rect x="317.25" y="325.15" width="4.3" height="4.3" fill="#fff" stroke="#f5141e" stroke-width="1.25"/>
<rect x="320.85" y="326.75" width="4.3" height="4.3" fill="#fff" stroke="#f5141e" stroke-width="1.25"/>
<rect x="324.45" y="327.95" width="4.3" height="4.3" fill="#fff" stroke="#f5141e" stroke-width="1.25"/>
<rect x="328.05" y="328.85" width="4.3" height="4.3" fill="#fff" stroke="#f5141e" stroke-width="1.25"/>
<rect x="331.65" y="329.65" width="4.3" height="4.3" fill="#fff" stroke="#f5141e" stroke-width="1.25"/>
<rect x="335.25" y="330.15" width="4.3" height="4.3" fill="#fff" stroke="#f5141e" stroke-width="1.25"/>
<rect x="338.85" y="329.95" width="4.3" height="4.3" fill="#fff" stroke="#f5141e" stroke-width="1.25"/>
<rect x="342.45" y="329.65" width="4.3" height="4.3" fill="#fff" stroke="#f5141e" stroke-width="1.25"/>
<rect x="346.05" y="329.45" width="4.3" height="4.3" fill="#fff" stroke="#f5141e" stroke-width="1.25"/>
<rect x="349.85" y="329.25" width="4.3" height="4.3" fill="#fff" stroke="#f5141e" stroke-width="1.25"/>
<line x1="292.20" y1="273.00" x2="292.20" y2="292.50" stroke="#2a54ad" stroke-width="1.1" />
<line x1="289.70" y1="273.00" x2="294.70" y2="273.00" stroke="#2a54ad" stroke-width="1.1" />
<line x1="289.70" y1="292.50" x2="294.70" y2="292.50" stroke="#2a54ad" stroke-width="1.1" />
<line x1="286.10" y1="282.00" x2="286.10" y2="290.00" stroke="#2a54ad" stroke-width="1.1" />
<line x1="283.60" y1="282.00" x2="288.60" y2="282.00" stroke="#2a54ad" stroke-width="1.1" />
<line x1="283.60" y1="290.00" x2="288.60" y2="290.00" stroke="#2a54ad" stroke-width="1.1" />
<line x1="289.50" y1="279.50" x2="289.50" y2="286.00" stroke="#2a54ad" stroke-width="1.1" />
<line x1="287.00" y1="279.50" x2="292.00" y2="279.50" stroke="#2a54ad" stroke-width="1.1" />
<line x1="287.00" y1="286.00" x2="292.00" y2="286.00" stroke="#2a54ad" stroke-width="1.1" />
<line x1="295.40" y1="280.30" x2="295.40" y2="288.00" stroke="#2a54ad" stroke-width="1.1" />
<line x1="292.90" y1="280.30" x2="297.90" y2="280.30" stroke="#2a54ad" stroke-width="1.1" />
<line x1="292.90" y1="288.00" x2="297.90" y2="288.00" stroke="#2a54ad" stroke-width="1.1" />
<line x1="298.60" y1="282.20" x2="298.60" y2="290.20" stroke="#2a54ad" stroke-width="1.1" />
<line x1="296.10" y1="282.20" x2="301.10" y2="282.20" stroke="#2a54ad" stroke-width="1.1" />
<line x1="296.10" y1="290.20" x2="301.10" y2="290.20" stroke="#2a54ad" stroke-width="1.1" />
<line x1="301.80" y1="284.80" x2="301.80" y2="292.80" stroke="#2a54ad" stroke-width="1.1" />
<line x1="299.30" y1="284.80" x2="304.30" y2="284.80" stroke="#2a54ad" stroke-width="1.1" />
<line x1="299.30" y1="292.80" x2="304.30" y2="292.80" stroke="#2a54ad" stroke-width="1.1" />
<line x1="304.90" y1="289.00" x2="304.90" y2="297.00" stroke="#2a54ad" stroke-width="1.1" />
<line x1="302.40" y1="289.00" x2="307.40" y2="289.00" stroke="#2a54ad" stroke-width="1.1" />
<line x1="302.40" y1="297.00" x2="307.40" y2="297.00" stroke="#2a54ad" stroke-width="1.1" />
<line x1="307.20" y1="293.60" x2="307.20" y2="301.20" stroke="#2a54ad" stroke-width="1.1" />
<line x1="304.70" y1="293.60" x2="309.70" y2="293.60" stroke="#2a54ad" stroke-width="1.1" />
<line x1="304.70" y1="301.20" x2="309.70" y2="301.20" stroke="#2a54ad" stroke-width="1.1" />
<line x1="309.30" y1="297.20" x2="309.30" y2="304.80" stroke="#2a54ad" stroke-width="1.1" />
<line x1="306.80" y1="297.20" x2="311.80" y2="297.20" stroke="#2a54ad" stroke-width="1.1" />
<line x1="306.80" y1="304.80" x2="311.80" y2="304.80" stroke="#2a54ad" stroke-width="1.1" />
<line x1="312.40" y1="300.70" x2="312.40" y2="308.30" stroke="#2a54ad" stroke-width="1.1" />
<line x1="309.90" y1="300.70" x2="314.90" y2="300.70" stroke="#2a54ad" stroke-width="1.1" />
<line x1="309.90" y1="308.30" x2="314.90" y2="308.30" stroke="#2a54ad" stroke-width="1.1" />
<line x1="315.40" y1="306.30" x2="315.40" y2="313.70" stroke="#2a54ad" stroke-width="1.1" />
<line x1="312.90" y1="306.30" x2="317.90" y2="306.30" stroke="#2a54ad" stroke-width="1.1" />
<line x1="312.90" y1="313.70" x2="317.90" y2="313.70" stroke="#2a54ad" stroke-width="1.1" />
<line x1="318.10" y1="312.50" x2="318.10" y2="320.00" stroke="#2a54ad" stroke-width="1.1" />
<line x1="315.60" y1="312.50" x2="320.60" y2="312.50" stroke="#2a54ad" stroke-width="1.1" />
<line x1="315.60" y1="320.00" x2="320.60" y2="320.00" stroke="#2a54ad" stroke-width="1.1" />
<line x1="281.00" y1="295.50" x2="281.00" y2="302.00" stroke="#2a54ad" stroke-width="1.1" />
<line x1="278.50" y1="295.50" x2="283.50" y2="295.50" stroke="#2a54ad" stroke-width="1.1" />
<line x1="278.50" y1="302.00" x2="283.50" y2="302.00" stroke="#2a54ad" stroke-width="1.1" />
<line x1="278.10" y1="302.00" x2="278.10" y2="308.50" stroke="#2a54ad" stroke-width="1.1" />
<line x1="275.60" y1="302.00" x2="280.60" y2="302.00" stroke="#2a54ad" stroke-width="1.1" />
<line x1="275.60" y1="308.50" x2="280.60" y2="308.50" stroke="#2a54ad" stroke-width="1.1" />
<polyline points="239.10,332.80 242.00,332.50 244.40,332.80 247.00,333.20 250.00,332.60 253.00,333.00 256.00,333.40 258.70,333.60 261.40,333.50 263.60,332.60 265.70,331.20 267.50,329.30 269.10,326.90 270.90,323.50 272.50,320.10 275.00,313.80 278.10,305.30 281.00,298.80 283.50,292.00 286.10,286.10 289.50,282.70 292.90,281.80 295.40,284.10 298.60,286.20 301.80,288.80 304.90,293.00 307.20,297.40 309.30,301.00 312.40,304.50 315.40,310.00 318.10,316.20 321.00,324.20 324.50,329.80 327.90,332.60 332.10,332.30 337.40,331.80 342.60,331.60 347.80,331.80 353.10,332.30" fill="none" stroke="#2a54ad" stroke-width="1.1" stroke-linejoin="round" />
<circle cx="239.10" cy="332.80" r="2.1" fill="#1b4a9f"/>
<circle cx="242.00" cy="332.50" r="2.1" fill="#1b4a9f"/>
<circle cx="244.40" cy="332.80" r="2.1" fill="#1b4a9f"/>
<circle cx="247.00" cy="333.20" r="2.1" fill="#1b4a9f"/>
<circle cx="250.00" cy="332.60" r="2.1" fill="#1b4a9f"/>
<circle cx="253.00" cy="333.00" r="2.1" fill="#1b4a9f"/>
<circle cx="256.00" cy="333.40" r="2.1" fill="#1b4a9f"/>
<circle cx="258.70" cy="333.60" r="2.1" fill="#1b4a9f"/>
<circle cx="261.40" cy="333.50" r="2.1" fill="#1b4a9f"/>
<circle cx="263.60" cy="332.60" r="2.1" fill="#1b4a9f"/>
<circle cx="265.70" cy="331.20" r="2.1" fill="#1b4a9f"/>
<circle cx="267.50" cy="329.30" r="2.1" fill="#1b4a9f"/>
<circle cx="269.10" cy="326.90" r="2.1" fill="#1b4a9f"/>
<circle cx="270.90" cy="323.50" r="2.1" fill="#1b4a9f"/>
<circle cx="272.50" cy="320.10" r="2.1" fill="#1b4a9f"/>
<circle cx="275.00" cy="313.80" r="2.1" fill="#1b4a9f"/>
<circle cx="278.10" cy="305.30" r="2.1" fill="#1b4a9f"/>
<circle cx="281.00" cy="298.80" r="2.1" fill="#1b4a9f"/>
<circle cx="283.50" cy="292.00" r="2.1" fill="#1b4a9f"/>
<circle cx="286.10" cy="286.10" r="2.1" fill="#1b4a9f"/>
<circle cx="289.50" cy="282.70" r="2.1" fill="#1b4a9f"/>
<circle cx="292.90" cy="281.80" r="2.1" fill="#1b4a9f"/>
<circle cx="295.40" cy="284.10" r="2.1" fill="#1b4a9f"/>
<circle cx="298.60" cy="286.20" r="2.1" fill="#1b4a9f"/>
<circle cx="301.80" cy="288.80" r="2.1" fill="#1b4a9f"/>
<circle cx="304.90" cy="293.00" r="2.1" fill="#1b4a9f"/>
<circle cx="307.20" cy="297.40" r="2.1" fill="#1b4a9f"/>
<circle cx="309.30" cy="301.00" r="2.1" fill="#1b4a9f"/>
<circle cx="312.40" cy="304.50" r="2.1" fill="#1b4a9f"/>
<circle cx="315.40" cy="310.00" r="2.1" fill="#1b4a9f"/>
<circle cx="318.10" cy="316.20" r="2.1" fill="#1b4a9f"/>
<circle cx="321.00" cy="324.20" r="2.1" fill="#1b4a9f"/>
<circle cx="324.50" cy="329.80" r="2.1" fill="#1b4a9f"/>
<circle cx="327.90" cy="332.60" r="2.1" fill="#1b4a9f"/>
<circle cx="332.10" cy="332.30" r="2.1" fill="#1b4a9f"/>
<circle cx="337.40" cy="331.80" r="2.1" fill="#1b4a9f"/>
<circle cx="342.60" cy="331.60" r="2.1" fill="#1b4a9f"/>
<circle cx="347.80" cy="331.80" r="2.1" fill="#1b4a9f"/>
<circle cx="353.10" cy="332.30" r="2.1" fill="#1b4a9f"/>
<line x1="321.20" y1="233.90" x2="337.60" y2="233.90" stroke="#2a54ad" stroke-width="1.6" />
<circle cx="329.80" cy="233.90" r="1.9" fill="#2a54ad"/>
<line x1="321.20" y1="244.50" x2="337.60" y2="244.50" stroke="#f5141e" stroke-width="1.6" />
<rect x="327.90" y="242.60" width="3.8" height="3.8" fill="#fff" stroke="#f5141e" stroke-width="1.3"/>
<line x1="417.00" y1="301.29" x2="539.92" y2="301.29" stroke="#c452bc" stroke-width="1.35" stroke-dasharray="3.7 2.3"/>
<rect x="439.96" y="346.30" width="21.42" height="5.6" fill="#f5141e"/>
<line x1="411.40" y1="228.00" x2="411.40" y2="349.50" stroke="#2b2b2b" stroke-width="1.3" />
<line x1="407.80" y1="228.60" x2="411.40" y2="228.60" stroke="#2b2b2b" stroke-width="1.2" />
<line x1="407.80" y1="252.78" x2="411.40" y2="252.78" stroke="#2b2b2b" stroke-width="1.2" />
<line x1="407.80" y1="276.96" x2="411.40" y2="276.96" stroke="#2b2b2b" stroke-width="1.2" />
<line x1="407.80" y1="301.14" x2="411.40" y2="301.14" stroke="#2b2b2b" stroke-width="1.2" />
<line x1="407.80" y1="325.32" x2="411.40" y2="325.32" stroke="#2b2b2b" stroke-width="1.2" />
<line x1="407.80" y1="349.50" x2="411.40" y2="349.50" stroke="#2b2b2b" stroke-width="1.2" />
<line x1="409.20" y1="240.69" x2="411.40" y2="240.69" stroke="#2b2b2b" stroke-width="1.1" />
<line x1="409.20" y1="264.87" x2="411.40" y2="264.87" stroke="#2b2b2b" stroke-width="1.1" />
<line x1="409.20" y1="289.05" x2="411.40" y2="289.05" stroke="#2b2b2b" stroke-width="1.1" />
<line x1="409.20" y1="313.23" x2="411.40" y2="313.23" stroke="#2b2b2b" stroke-width="1.1" />
<line x1="409.20" y1="337.41" x2="411.40" y2="337.41" stroke="#2b2b2b" stroke-width="1.1" />
<line x1="410.80" y1="349.50" x2="539.92" y2="349.50" stroke="#2b2b2b" stroke-width="1.3" />
<line x1="411.40" y1="349.50" x2="411.40" y2="352.90" stroke="#2b2b2b" stroke-width="1.2" />
<line x1="418.54" y1="349.50" x2="418.54" y2="351.70" stroke="#2b2b2b" stroke-width="1.1" />
<line x1="425.68" y1="349.50" x2="425.68" y2="351.70" stroke="#2b2b2b" stroke-width="1.1" />
<line x1="432.82" y1="349.50" x2="432.82" y2="351.70" stroke="#2b2b2b" stroke-width="1.1" />
<line x1="439.96" y1="349.50" x2="439.96" y2="352.90" stroke="#2b2b2b" stroke-width="1.2" />
<line x1="447.10" y1="349.50" x2="447.10" y2="351.70" stroke="#2b2b2b" stroke-width="1.1" />
<line x1="454.24" y1="349.50" x2="454.24" y2="351.70" stroke="#2b2b2b" stroke-width="1.1" />
<line x1="461.38" y1="349.50" x2="461.38" y2="351.70" stroke="#2b2b2b" stroke-width="1.1" />
<line x1="468.52" y1="349.50" x2="468.52" y2="352.90" stroke="#2b2b2b" stroke-width="1.2" />
<line x1="475.66" y1="349.50" x2="475.66" y2="351.70" stroke="#2b2b2b" stroke-width="1.1" />
<line x1="482.80" y1="349.50" x2="482.80" y2="351.70" stroke="#2b2b2b" stroke-width="1.1" />
<line x1="489.94" y1="349.50" x2="489.94" y2="351.70" stroke="#2b2b2b" stroke-width="1.1" />
<line x1="497.08" y1="349.50" x2="497.08" y2="352.90" stroke="#2b2b2b" stroke-width="1.2" />
<line x1="504.22" y1="349.50" x2="504.22" y2="351.70" stroke="#2b2b2b" stroke-width="1.1" />
<line x1="511.36" y1="349.50" x2="511.36" y2="351.70" stroke="#2b2b2b" stroke-width="1.1" />
<line x1="518.50" y1="349.50" x2="518.50" y2="351.70" stroke="#2b2b2b" stroke-width="1.1" />
<line x1="525.64" y1="349.50" x2="525.64" y2="352.90" stroke="#2b2b2b" stroke-width="1.2" />
<line x1="532.78" y1="349.50" x2="532.78" y2="351.70" stroke="#2b2b2b" stroke-width="1.1" />
<line x1="539.92" y1="349.50" x2="539.92" y2="351.70" stroke="#2b2b2b" stroke-width="1.1" />
<polyline points="414.50,295.10 414.50,292.30 437.60,292.30 437.60,295.10" fill="none" stroke="#1a1a1a" stroke-width="1.3"/>
<line x1="426.05" y1="292.30" x2="426.05" y2="288.90" stroke="#1a1a1a" stroke-width="1.3" />
<polyline points="425.60,254.00 425.60,249.70 462.50,249.70 462.50,254.00" fill="none" stroke="#1a1a1a" stroke-width="1.2"/>
<polyline points="425.60,320.20 425.60,323.80 462.50,323.80 462.50,320.20" fill="none" stroke="#df4fae" stroke-width="1.2"/>
<polyline points="417.30,300.80 422.90,300.80 428.60,300.80 434.30,300.80 439.90,300.80 445.50,300.80 451.50,304.10 456.90,309.00 462.90,313.60 468.60,315.00 474.40,314.50 480.40,310.60 485.80,306.80 491.30,303.50 497.30,301.90 503.10,301.90 509.00,301.90 514.60,301.90 520.30,301.90 526.20,302.20" fill="none" stroke="#df4fae" stroke-width="1.3" stroke-linejoin="round" />
<rect x="415.00" y="298.50" width="4.6" height="4.6" fill="#fff" stroke="#df4fae" stroke-width="1.3"/>
<rect x="420.60" y="298.50" width="4.6" height="4.6" fill="#fff" stroke="#df4fae" stroke-width="1.3"/>
<rect x="426.30" y="298.50" width="4.6" height="4.6" fill="#fff" stroke="#df4fae" stroke-width="1.3"/>
<rect x="432.00" y="298.50" width="4.6" height="4.6" fill="#fff" stroke="#df4fae" stroke-width="1.3"/>
<rect x="437.60" y="298.50" width="4.6" height="4.6" fill="#fff" stroke="#df4fae" stroke-width="1.3"/>
<rect x="443.20" y="298.50" width="4.6" height="4.6" fill="#fff" stroke="#df4fae" stroke-width="1.3"/>
<rect x="449.20" y="301.80" width="4.6" height="4.6" fill="#fff" stroke="#df4fae" stroke-width="1.3"/>
<rect x="454.60" y="306.70" width="4.6" height="4.6" fill="#fff" stroke="#df4fae" stroke-width="1.3"/>
<rect x="460.60" y="311.30" width="4.6" height="4.6" fill="#fff" stroke="#df4fae" stroke-width="1.3"/>
<rect x="466.30" y="312.70" width="4.6" height="4.6" fill="#fff" stroke="#df4fae" stroke-width="1.3"/>
<rect x="472.10" y="312.20" width="4.6" height="4.6" fill="#fff" stroke="#df4fae" stroke-width="1.3"/>
<rect x="478.10" y="308.30" width="4.6" height="4.6" fill="#fff" stroke="#df4fae" stroke-width="1.3"/>
<rect x="483.50" y="304.50" width="4.6" height="4.6" fill="#fff" stroke="#df4fae" stroke-width="1.3"/>
<rect x="489.00" y="301.20" width="4.6" height="4.6" fill="#fff" stroke="#df4fae" stroke-width="1.3"/>
<rect x="495.00" y="299.60" width="4.6" height="4.6" fill="#fff" stroke="#df4fae" stroke-width="1.3"/>
<rect x="500.80" y="299.60" width="4.6" height="4.6" fill="#fff" stroke="#df4fae" stroke-width="1.3"/>
<rect x="506.70" y="299.60" width="4.6" height="4.6" fill="#fff" stroke="#df4fae" stroke-width="1.3"/>
<rect x="512.30" y="299.60" width="4.6" height="4.6" fill="#fff" stroke="#df4fae" stroke-width="1.3"/>
<rect x="518.00" y="299.60" width="4.6" height="4.6" fill="#fff" stroke="#df4fae" stroke-width="1.3"/>
<rect x="523.90" y="299.90" width="4.6" height="4.6" fill="#fff" stroke="#df4fae" stroke-width="1.3"/>
<line x1="451.50" y1="284.00" x2="451.50" y2="290.00" stroke="#1a1a1a" stroke-width="1.1" />
<line x1="449.10" y1="284.00" x2="453.90" y2="284.00" stroke="#1a1a1a" stroke-width="1.1" />
<line x1="449.10" y1="290.00" x2="453.90" y2="290.00" stroke="#1a1a1a" stroke-width="1.1" />
<line x1="457.30" y1="268.00" x2="457.30" y2="279.80" stroke="#1a1a1a" stroke-width="1.1" />
<line x1="454.90" y1="268.00" x2="459.70" y2="268.00" stroke="#1a1a1a" stroke-width="1.1" />
<line x1="454.90" y1="279.80" x2="459.70" y2="279.80" stroke="#1a1a1a" stroke-width="1.1" />
<line x1="463.00" y1="260.20" x2="463.00" y2="273.30" stroke="#1a1a1a" stroke-width="1.1" />
<line x1="460.60" y1="260.20" x2="465.40" y2="260.20" stroke="#1a1a1a" stroke-width="1.1" />
<line x1="460.60" y1="273.30" x2="465.40" y2="273.30" stroke="#1a1a1a" stroke-width="1.1" />
<line x1="468.60" y1="255.00" x2="468.60" y2="270.00" stroke="#1a1a1a" stroke-width="1.1" />
<line x1="466.20" y1="255.00" x2="471.00" y2="255.00" stroke="#1a1a1a" stroke-width="1.1" />
<line x1="466.20" y1="270.00" x2="471.00" y2="270.00" stroke="#1a1a1a" stroke-width="1.1" />
<line x1="474.40" y1="252.60" x2="474.40" y2="266.80" stroke="#1a1a1a" stroke-width="1.1" />
<line x1="472.00" y1="252.60" x2="476.80" y2="252.60" stroke="#1a1a1a" stroke-width="1.1" />
<line x1="472.00" y1="266.80" x2="476.80" y2="266.80" stroke="#1a1a1a" stroke-width="1.1" />
<line x1="480.30" y1="245.60" x2="480.30" y2="268.00" stroke="#1a1a1a" stroke-width="1.1" />
<line x1="477.90" y1="245.60" x2="482.70" y2="245.60" stroke="#1a1a1a" stroke-width="1.1" />
<line x1="477.90" y1="268.00" x2="482.70" y2="268.00" stroke="#1a1a1a" stroke-width="1.1" />
<line x1="486.20" y1="261.00" x2="486.20" y2="267.50" stroke="#1a1a1a" stroke-width="1.1" />
<line x1="483.80" y1="261.00" x2="488.60" y2="261.00" stroke="#1a1a1a" stroke-width="1.1" />
<line x1="483.80" y1="267.50" x2="488.60" y2="267.50" stroke="#1a1a1a" stroke-width="1.1" />
<line x1="491.40" y1="271.50" x2="491.40" y2="279.00" stroke="#1a1a1a" stroke-width="1.1" />
<line x1="489.00" y1="271.50" x2="493.80" y2="271.50" stroke="#1a1a1a" stroke-width="1.1" />
<line x1="489.00" y1="279.00" x2="493.80" y2="279.00" stroke="#1a1a1a" stroke-width="1.1" />
<line x1="509.00" y1="283.20" x2="509.00" y2="292.60" stroke="#1a1a1a" stroke-width="1.1" />
<line x1="506.60" y1="283.20" x2="511.40" y2="283.20" stroke="#1a1a1a" stroke-width="1.1" />
<line x1="506.60" y1="292.60" x2="511.40" y2="292.60" stroke="#1a1a1a" stroke-width="1.1" />
<line x1="514.60" y1="285.00" x2="514.60" y2="291.00" stroke="#1a1a1a" stroke-width="1.1" />
<line x1="512.20" y1="285.00" x2="517.00" y2="285.00" stroke="#1a1a1a" stroke-width="1.1" />
<line x1="512.20" y1="291.00" x2="517.00" y2="291.00" stroke="#1a1a1a" stroke-width="1.1" />
<line x1="520.30" y1="285.00" x2="520.30" y2="291.00" stroke="#1a1a1a" stroke-width="1.1" />
<line x1="517.90" y1="285.00" x2="522.70" y2="285.00" stroke="#1a1a1a" stroke-width="1.1" />
<line x1="517.90" y1="291.00" x2="522.70" y2="291.00" stroke="#1a1a1a" stroke-width="1.1" />
<line x1="526.20" y1="285.60" x2="526.20" y2="292.60" stroke="#1a1a1a" stroke-width="1.1" />
<line x1="523.80" y1="285.60" x2="528.60" y2="285.60" stroke="#1a1a1a" stroke-width="1.1" />
<line x1="523.80" y1="292.60" x2="528.60" y2="292.60" stroke="#1a1a1a" stroke-width="1.1" />
<polyline points="417.30,300.80 422.90,300.10 428.60,300.30 434.30,302.00 439.90,302.30 445.60,295.50 451.50,287.20 457.30,274.00 463.00,267.20 468.60,263.00 474.40,259.70 480.30,257.40 486.20,264.40 491.40,275.50 497.20,283.20 503.10,288.60 509.00,287.90 514.60,287.90 520.30,287.90 526.20,289.60" fill="none" stroke="#1a1a1a" stroke-width="1.3" stroke-linejoin="round" />
<circle cx="417.30" cy="300.80" r="2.3" fill="#1a1a1a"/>
<circle cx="422.90" cy="300.10" r="2.3" fill="#1a1a1a"/>
<circle cx="428.60" cy="300.30" r="2.3" fill="#1a1a1a"/>
<circle cx="434.30" cy="302.00" r="2.3" fill="#1a1a1a"/>
<circle cx="439.90" cy="302.30" r="2.3" fill="#1a1a1a"/>
<circle cx="445.60" cy="295.50" r="2.3" fill="#1a1a1a"/>
<circle cx="451.50" cy="287.20" r="2.3" fill="#1a1a1a"/>
<circle cx="457.30" cy="274.00" r="2.3" fill="#1a1a1a"/>
<circle cx="463.00" cy="267.20" r="2.3" fill="#1a1a1a"/>
<circle cx="468.60" cy="263.00" r="2.3" fill="#1a1a1a"/>
<circle cx="474.40" cy="259.70" r="2.3" fill="#1a1a1a"/>
<circle cx="480.30" cy="257.40" r="2.3" fill="#1a1a1a"/>
<circle cx="486.20" cy="264.40" r="2.3" fill="#1a1a1a"/>
<circle cx="491.40" cy="275.50" r="2.3" fill="#1a1a1a"/>
<circle cx="497.20" cy="283.20" r="2.3" fill="#1a1a1a"/>
<circle cx="503.10" cy="288.60" r="2.3" fill="#1a1a1a"/>
<circle cx="509.00" cy="287.90" r="2.3" fill="#1a1a1a"/>
<circle cx="514.60" cy="287.90" r="2.3" fill="#1a1a1a"/>
<circle cx="520.30" cy="287.90" r="2.3" fill="#1a1a1a"/>
<circle cx="526.20" cy="289.60" r="2.3" fill="#1a1a1a"/>
<line x1="499.30" y1="234.20" x2="515.70" y2="234.20" stroke="#df4fae" stroke-width="1.6" />
<rect x="505.60" y="231.90" width="4.6" height="4.6" fill="#f3c6e4" stroke="#df4fae" stroke-width="1.4"/>
<line x1="499.30" y1="244.80" x2="515.70" y2="244.80" stroke="#1a1a1a" stroke-width="1.6" />
<circle cx="507.90" cy="244.80" r="2.3" fill="#1a1a1a"/>
</g>
<g filter="url(#bt)">
<text x="5.9" y="21.3" font-size="21.5" fill="#1a1a1a" stroke="#1a1a1a" stroke-width="0.45">a)</text>
<text x="35.30" y="36.90" font-size="18.5" font-weight="normal" fill="#1a1a1a" stroke="#1a1a1a" stroke-width="0.22" letter-spacing="1.3">i</text>
<text x="126.60" y="32.70" font-size="9.65" font-weight="bold" text-anchor="middle" fill="#262626" stroke="#262626" >Skin temperature</text>
<text x="103.67" y="154.25" font-size="9.6" font-weight="bold" text-anchor="middle" fill="#f5141e" stroke="#f5141e" >Heating</text>
<text x="58.30" y="42.70" font-size="9.9" font-weight="bold" text-anchor="end" fill="#262626" stroke="#262626" >60</text>
<text x="58.30" y="73.04" font-size="9.9" font-weight="bold" text-anchor="end" fill="#262626" stroke="#262626" >40</text>
<text x="58.30" y="103.38" font-size="9.9" font-weight="bold" text-anchor="end" fill="#262626" stroke="#262626" >20</text>
<text x="58.30" y="133.71" font-size="9.9" font-weight="bold" text-anchor="end" fill="#262626" stroke="#262626" >0</text>
<text x="58.30" y="164.05" font-size="9.9" font-weight="bold" text-anchor="end" fill="#262626" stroke="#262626" >-20</text>
<text x="62.40" y="174.75" font-size="9.9" font-weight="bold" text-anchor="middle" fill="#262626" stroke="#262626" >0</text>
<text x="90.96" y="174.75" font-size="9.9" font-weight="bold" text-anchor="middle" fill="#262626" stroke="#262626" >40</text>
<text x="119.52" y="174.75" font-size="9.9" font-weight="bold" text-anchor="middle" fill="#262626" stroke="#262626" >80</text>
<text x="148.08" y="174.75" font-size="9.9" font-weight="bold" text-anchor="middle" fill="#262626" stroke="#262626" >120</text>
<text x="176.64" y="174.75" font-size="9.9" font-weight="bold" text-anchor="middle" fill="#262626" stroke="#262626" >160</text>
<text x="126.66" y="186.25" font-size="9.3" font-weight="bold" text-anchor="middle" fill="#262626" stroke="#262626" >Time (min)</text>
<text x="0" y="0" font-size="9.55" font-weight="bold" text-anchor="middle" fill="#262626" transform="translate(40.00,98.88) rotate(-90)">Relative change (%)</text>
<polygon points="91.70,43.40 92.36,45.29 94.36,45.33 92.77,46.55 93.35,48.47 91.70,47.32 90.05,48.47 90.63,46.55 89.04,45.33 91.04,45.29" fill="#1a1a1a"/>
<polygon points="97.30,43.40 97.96,45.29 99.96,45.33 98.37,46.55 98.95,48.47 97.30,47.32 95.65,48.47 96.23,46.55 94.64,45.33 96.64,45.29" fill="#1a1a1a"/>
<text x="210.50" y="36.90" font-size="18.5" font-weight="normal" fill="#1a1a1a" stroke="#1a1a1a" stroke-width="0.22" letter-spacing="1.3">ii</text>
<text x="302.36" y="32.70" font-size="9.65" font-weight="bold" text-anchor="middle" fill="#262626" stroke="#262626" >Vessel diameter</text>
<text x="234.00" y="42.60" font-size="9.9" font-weight="bold" text-anchor="end" fill="#262626" stroke="#262626" >15</text>
<text x="234.00" y="72.96" font-size="9.9" font-weight="bold" text-anchor="end" fill="#262626" stroke="#262626" >10</text>
<text x="234.00" y="103.33" font-size="9.9" font-weight="bold" text-anchor="end" fill="#262626" stroke="#262626" >5</text>
<text x="234.00" y="133.69" font-size="9.9" font-weight="bold" text-anchor="end" fill="#262626" stroke="#262626" >0</text>
<text x="234.00" y="164.05" font-size="9.9" font-weight="bold" text-anchor="end" fill="#262626" stroke="#262626" >-5</text>
<text x="238.10" y="174.75" font-size="9.9" font-weight="bold" text-anchor="middle" fill="#262626" stroke="#262626" >0</text>
<text x="266.66" y="174.75" font-size="9.9" font-weight="bold" text-anchor="middle" fill="#262626" stroke="#262626" >40</text>
<text x="295.22" y="174.75" font-size="9.9" font-weight="bold" text-anchor="middle" fill="#262626" stroke="#262626" >80</text>
<text x="323.78" y="174.75" font-size="9.9" font-weight="bold" text-anchor="middle" fill="#262626" stroke="#262626" >120</text>
<text x="352.34" y="174.75" font-size="9.9" font-weight="bold" text-anchor="middle" fill="#262626" stroke="#262626" >160</text>
<text x="302.36" y="186.25" font-size="9.3" font-weight="bold" text-anchor="middle" fill="#262626" stroke="#262626" >Time (min)</text>
<text x="0" y="0" font-size="9.55" font-weight="bold" text-anchor="middle" fill="#262626" transform="translate(215.70,98.83) rotate(-90)">Relative change (%)</text>
<polygon points="269.30,43.20 269.98,45.16 272.06,45.20 270.40,46.46 271.00,48.45 269.30,47.26 267.60,48.45 268.20,46.46 266.54,45.20 268.62,45.16" fill="#f5141e"/>
<polygon points="269.30,54.80 269.98,56.76 272.06,56.80 270.40,58.06 271.00,60.05 269.30,58.86 267.60,60.05 268.20,58.06 266.54,56.80 268.62,56.76" fill="#2a54ad"/>
<text x="339.30" y="53.50" font-size="9.2" font-weight="bold" text-anchor="start" fill="#2a54ad" stroke="#2a54ad" >Vein</text>
<text x="339.30" y="64.20" font-size="9.2" font-weight="bold" text-anchor="start" fill="#f5141e" stroke="#f5141e" >Artery</text>
<text x="382.00" y="36.90" font-size="18.5" font-weight="normal" fill="#1a1a1a" stroke="#1a1a1a" stroke-width="0.22" letter-spacing="1.1">iii</text>
<text x="468.3" y="31.0" font-size="10.2" font-weight="bold" font-style="italic" fill="#262626" stroke="#262626">C</text>
<text x="474.6" y="32.8" font-size="6.9" font-weight="bold" fill="#262626" stroke="#262626">Hb</text>
<text x="407.30" y="42.30" font-size="9.9" font-weight="bold" text-anchor="end" fill="#262626" stroke="#262626" >20</text>
<text x="407.30" y="66.54" font-size="9.9" font-weight="bold" text-anchor="end" fill="#262626" stroke="#262626" >15</text>
<text x="407.30" y="90.78" font-size="9.9" font-weight="bold" text-anchor="end" fill="#262626" stroke="#262626" >10</text>
<text x="407.30" y="115.02" font-size="9.9" font-weight="bold" text-anchor="end" fill="#262626" stroke="#262626" >5</text>
<text x="407.30" y="139.26" font-size="9.9" font-weight="bold" text-anchor="end" fill="#262626" stroke="#262626" >0</text>
<text x="407.30" y="163.50" font-size="9.9" font-weight="bold" text-anchor="end" fill="#262626" stroke="#262626" >-5</text>
<text x="411.40" y="174.20" font-size="9.9" font-weight="bold" text-anchor="middle" fill="#262626" stroke="#262626" >0</text>
<text x="439.96" y="174.20" font-size="9.9" font-weight="bold" text-anchor="middle" fill="#262626" stroke="#262626" >40</text>
<text x="468.52" y="174.20" font-size="9.9" font-weight="bold" text-anchor="middle" fill="#262626" stroke="#262626" >80</text>
<text x="497.08" y="174.20" font-size="9.9" font-weight="bold" text-anchor="middle" fill="#262626" stroke="#262626" >120</text>
<text x="525.64" y="174.20" font-size="9.9" font-weight="bold" text-anchor="middle" fill="#262626" stroke="#262626" >160</text>
<text x="475.66" y="185.70" font-size="9.3" font-weight="bold" text-anchor="middle" fill="#262626" stroke="#262626" >Time (min)</text>
<text x="0" y="0" font-size="9.55" font-weight="bold" text-anchor="middle" fill="#262626" transform="translate(389.00,98.40) rotate(-90)">Relative change (%)</text>
<polygon points="444.30,77.30 444.98,79.26 447.06,79.30 445.40,80.56 446.00,82.55 444.30,81.36 442.60,82.55 443.20,80.56 441.54,79.30 443.62,79.26" fill="#2a54ad"/>
<polygon points="444.30,93.60 444.98,95.56 447.06,95.60 445.40,96.86 446.00,98.85 444.30,97.66 442.60,98.85 443.20,96.86 441.54,95.60 443.62,95.56" fill="#f5141e"/>
<text x="510.60" y="53.90" font-size="9.2" font-weight="bold" text-anchor="start" fill="#2a54ad" stroke="#2a54ad" >Vein</text>
<text x="510.60" y="64.30" font-size="9.2" font-weight="bold" text-anchor="start" fill="#f5141e" stroke="#f5141e" >Artery</text>
<text x="31.20" y="223.90" font-size="18.5" font-weight="normal" fill="#1a1a1a" stroke="#1a1a1a" stroke-width="0.22" letter-spacing="0.9">iv</text>
<text x="118.2" y="220.0" font-size="9.6" font-weight="bold" fill="#262626" stroke="#262626">sO<tspan font-size="6.6" dy="1.6">2</tspan></text>
<text x="58.35" y="231.70" font-size="9.9" font-weight="bold" text-anchor="end" fill="#262626" stroke="#262626" >8</text>
<text x="58.35" y="251.81" font-size="9.9" font-weight="bold" text-anchor="end" fill="#262626" stroke="#262626" >6</text>
<text x="58.35" y="271.92" font-size="9.9" font-weight="bold" text-anchor="end" fill="#262626" stroke="#262626" >4</text>
<text x="58.35" y="292.02" font-size="9.9" font-weight="bold" text-anchor="end" fill="#262626" stroke="#262626" >2</text>
<text x="58.35" y="312.13" font-size="9.9" font-weight="bold" text-anchor="end" fill="#262626" stroke="#262626" >0</text>
<text x="58.35" y="332.24" font-size="9.9" font-weight="bold" text-anchor="end" fill="#262626" stroke="#262626" >-2</text>
<text x="58.35" y="352.35" font-size="9.9" font-weight="bold" text-anchor="end" fill="#262626" stroke="#262626" >-4</text>
<text x="62.45" y="363.05" font-size="9.9" font-weight="bold" text-anchor="middle" fill="#262626" stroke="#262626" >0</text>
<text x="91.01" y="363.05" font-size="9.9" font-weight="bold" text-anchor="middle" fill="#262626" stroke="#262626" >40</text>
<text x="119.57" y="363.05" font-size="9.9" font-weight="bold" text-anchor="middle" fill="#262626" stroke="#262626" >80</text>
<text x="148.13" y="363.05" font-size="9.9" font-weight="bold" text-anchor="middle" fill="#262626" stroke="#262626" >120</text>
<text x="176.69" y="363.05" font-size="9.9" font-weight="bold" text-anchor="middle" fill="#262626" stroke="#262626" >160</text>
<text x="126.71" y="374.55" font-size="9.3" font-weight="bold" text-anchor="middle" fill="#262626" stroke="#262626" >Time (min)</text>
<text x="0" y="0" font-size="9.55" font-weight="bold" text-anchor="middle" fill="#262626" transform="translate(40.05,287.52) rotate(-90)">Relative change (%)</text>
<polygon points="94.90,237.80 95.58,239.76 97.66,239.80 96.00,241.06 96.60,243.05 94.90,241.86 93.20,243.05 93.80,241.06 92.14,239.80 94.22,239.76" fill="#2a54ad"/>
<text x="167.80" y="237.40" font-size="9.2" font-weight="bold" text-anchor="start" fill="#2a54ad" stroke="#2a54ad" >Vein</text>
<text x="167.80" y="247.70" font-size="9.2" font-weight="bold" text-anchor="start" fill="#f5141e" stroke="#f5141e" >Artery</text>
<text x="210.00" y="222.00" font-size="18.5" font-weight="normal" fill="#1a1a1a" stroke="#1a1a1a" stroke-width="0.22" letter-spacing="1.3">v</text>
<text x="302.36" y="220.50" font-size="9.6" font-weight="bold" text-anchor="middle" fill="#262626" stroke="#262626" >Blood flow speed</text>
<text x="234.00" y="230.90" font-size="9.9" font-weight="bold" text-anchor="end" fill="#262626" stroke="#262626" >60</text>
<text x="234.00" y="265.56" font-size="9.9" font-weight="bold" text-anchor="end" fill="#262626" stroke="#262626" >40</text>
<text x="234.00" y="300.21" font-size="9.9" font-weight="bold" text-anchor="end" fill="#262626" stroke="#262626" >20</text>
<text x="234.00" y="334.87" font-size="9.9" font-weight="bold" text-anchor="end" fill="#262626" stroke="#262626" >0</text>
<text x="238.10" y="362.90" font-size="9.9" font-weight="bold" text-anchor="middle" fill="#262626" stroke="#262626" >0</text>
<text x="266.66" y="362.90" font-size="9.9" font-weight="bold" text-anchor="middle" fill="#262626" stroke="#262626" >40</text>
<text x="295.22" y="362.90" font-size="9.9" font-weight="bold" text-anchor="middle" fill="#262626" stroke="#262626" >80</text>
<text x="323.78" y="362.90" font-size="9.9" font-weight="bold" text-anchor="middle" fill="#262626" stroke="#262626" >120</text>
<text x="352.34" y="362.90" font-size="9.9" font-weight="bold" text-anchor="middle" fill="#262626" stroke="#262626" >160</text>
<text x="302.36" y="374.40" font-size="9.3" font-weight="bold" text-anchor="middle" fill="#262626" stroke="#262626" >Time (min)</text>
<text x="0" y="0" font-size="9.55" font-weight="bold" text-anchor="middle" fill="#262626" transform="translate(215.70,287.05) rotate(-90)">Relative change (%)</text>
<polygon points="268.10,255.00 268.76,256.89 270.76,256.93 269.17,258.15 269.75,260.07 268.10,258.92 266.45,260.07 267.03,258.15 265.44,256.93 267.44,256.89" fill="#2a54ad"/>
<polygon points="273.50,255.00 274.16,256.89 276.16,256.93 274.57,258.15 275.15,260.07 273.50,258.92 271.85,260.07 272.43,258.15 270.84,256.93 272.84,256.89" fill="#2a54ad"/>
<polygon points="268.10,299.80 268.76,301.69 270.76,301.73 269.17,302.95 269.75,304.87 268.10,303.72 266.45,304.87 267.03,302.95 265.44,301.73 267.44,301.69" fill="#f5141e"/>
<polygon points="273.50,299.80 274.16,301.69 276.16,301.73 274.57,302.95 275.15,304.87 273.50,303.72 271.85,304.87 272.43,302.95 270.84,301.73 272.84,301.69" fill="#f5141e"/>
<text x="339.30" y="237.40" font-size="9.2" font-weight="bold" text-anchor="start" fill="#2a54ad" stroke="#2a54ad" >Vein</text>
<text x="339.30" y="247.60" font-size="9.2" font-weight="bold" text-anchor="start" fill="#f5141e" stroke="#f5141e" >Artery</text>
<text x="381.00" y="220.70" font-size="18.5" font-weight="normal" fill="#1a1a1a" stroke="#1a1a1a" stroke-width="0.22" letter-spacing="0.2">vi</text>
<text x="475.0" y="219.2" font-size="9.8" font-weight="bold" text-anchor="middle" fill="#262626" stroke="#262626">OEF and MRO<tspan font-size="6.6" dy="1.8">2</tspan></text>
<text x="407.30" y="231.30" font-size="9.9" font-weight="bold" text-anchor="end" fill="#262626" stroke="#262626" >60</text>
<text x="407.30" y="255.48" font-size="9.9" font-weight="bold" text-anchor="end" fill="#262626" stroke="#262626" >40</text>
<text x="407.30" y="279.66" font-size="9.9" font-weight="bold" text-anchor="end" fill="#262626" stroke="#262626" >20</text>
<text x="407.30" y="303.84" font-size="9.9" font-weight="bold" text-anchor="end" fill="#262626" stroke="#262626" >0</text>
<text x="407.30" y="328.02" font-size="9.9" font-weight="bold" text-anchor="end" fill="#262626" stroke="#262626" >-20</text>
<text x="407.30" y="352.20" font-size="9.9" font-weight="bold" text-anchor="end" fill="#262626" stroke="#262626" >-40</text>
<text x="411.40" y="362.90" font-size="9.9" font-weight="bold" text-anchor="middle" fill="#262626" stroke="#262626" >0</text>
<text x="439.96" y="362.90" font-size="9.9" font-weight="bold" text-anchor="middle" fill="#262626" stroke="#262626" >40</text>
<text x="468.52" y="362.90" font-size="9.9" font-weight="bold" text-anchor="middle" fill="#262626" stroke="#262626" >80</text>
<text x="497.08" y="362.90" font-size="9.9" font-weight="bold" text-anchor="middle" fill="#262626" stroke="#262626" >120</text>
<text x="525.64" y="362.90" font-size="9.9" font-weight="bold" text-anchor="middle" fill="#262626" stroke="#262626" >160</text>
<text x="475.66" y="374.40" font-size="9.3" font-weight="bold" text-anchor="middle" fill="#262626" stroke="#262626" >Time (min)</text>
<text x="0" y="0" font-size="9.55" font-weight="bold" text-anchor="middle" fill="#262626" transform="translate(389.00,287.25) rotate(-90)">Relative change (%)</text>
<polygon points="444.20,243.00 444.88,244.96 446.96,245.00 445.30,246.26 445.90,248.25 444.20,247.06 442.50,248.25 443.10,246.26 441.44,245.00 443.52,244.96" fill="#1a1a1a"/>
<polygon points="444.20,326.60 444.88,328.56 446.96,328.60 445.30,329.86 445.90,331.85 444.20,330.66 442.50,331.85 443.10,329.86 441.44,328.60 443.52,328.56" fill="#df4fae"/>
<text x="517.80" y="237.30" font-size="9.2" font-weight="bold" text-anchor="start" fill="#df4fae" stroke="#df4fae" >OEF</text>
<text x="517.8" y="248.0" font-size="9.4" font-weight="bold" fill="#262626" stroke="#262626">MRO<tspan font-size="6.6" dy="1.8">2</tspan></text>
</g>
</svg>
</body></html>
